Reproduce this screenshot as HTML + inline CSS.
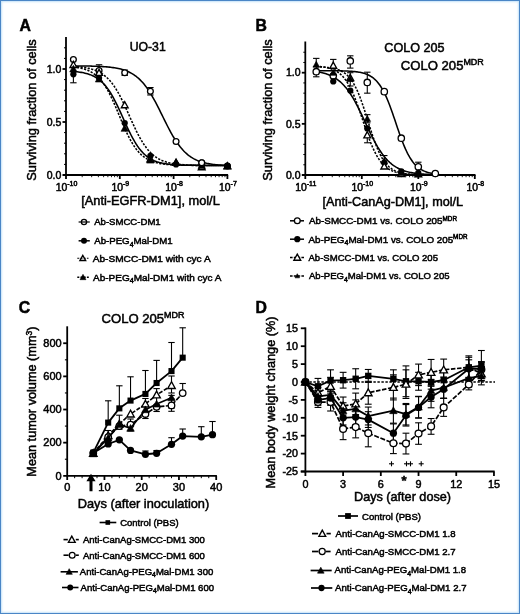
<!DOCTYPE html>
<html lang="en">
<head>
<meta charset="utf-8">
<title>Figure</title>
<style>
html,body{margin:0;padding:0;background:#fff;}
body{width:520px;height:614px;overflow:hidden;position:relative;}
.frame{position:absolute;left:0;top:0;width:520px;height:614px;box-sizing:border-box;
 border-style:solid;border-color:#4a86c6;border-width:1px 1.5px 1.5px 1px;box-shadow:inset 0 0 2px 1px #c4e2f8;}
svg{position:absolute;left:0;top:0;display:block;filter:blur(0.35px);}
svg text{font-family:"Liberation Sans", sans-serif;fill:#000;stroke:#000;stroke-width:0.5px;}
</style>
</head>
<body>
<svg width="520" height="614" viewBox="0 0 520 614">
<line x1="66.00" y1="37.00" x2="66.00" y2="175.90" stroke="#000" stroke-width="1.8"/>
<line x1="62.50" y1="175.00" x2="228.10" y2="175.00" stroke="#000" stroke-width="1.8"/>
<line x1="62.50" y1="122.00" x2="66.00" y2="122.00" stroke="#000" stroke-width="1.8"/>
<line x1="62.50" y1="69.00" x2="66.00" y2="69.00" stroke="#000" stroke-width="1.8"/>
<line x1="64.00" y1="164.40" x2="66.00" y2="164.40" stroke="#000" stroke-width="1.0"/>
<line x1="64.00" y1="153.80" x2="66.00" y2="153.80" stroke="#000" stroke-width="1.0"/>
<line x1="64.00" y1="143.20" x2="66.00" y2="143.20" stroke="#000" stroke-width="1.0"/>
<line x1="64.00" y1="132.60" x2="66.00" y2="132.60" stroke="#000" stroke-width="1.0"/>
<line x1="64.00" y1="111.40" x2="66.00" y2="111.40" stroke="#000" stroke-width="1.0"/>
<line x1="64.00" y1="100.80" x2="66.00" y2="100.80" stroke="#000" stroke-width="1.0"/>
<line x1="64.00" y1="90.20" x2="66.00" y2="90.20" stroke="#000" stroke-width="1.0"/>
<line x1="64.00" y1="79.60" x2="66.00" y2="79.60" stroke="#000" stroke-width="1.0"/>
<line x1="64.00" y1="58.40" x2="66.00" y2="58.40" stroke="#000" stroke-width="1.0"/>
<line x1="64.00" y1="47.80" x2="66.00" y2="47.80" stroke="#000" stroke-width="1.0"/>
<line x1="66.00" y1="175.00" x2="66.00" y2="179.00" stroke="#000" stroke-width="1.8"/>
<line x1="82.20" y1="175.00" x2="82.20" y2="177.20" stroke="#000" stroke-width="0.9"/>
<line x1="91.67" y1="175.00" x2="91.67" y2="177.20" stroke="#000" stroke-width="0.9"/>
<line x1="98.39" y1="175.00" x2="98.39" y2="177.20" stroke="#000" stroke-width="0.9"/>
<line x1="103.60" y1="175.00" x2="103.60" y2="177.20" stroke="#000" stroke-width="0.9"/>
<line x1="107.86" y1="175.00" x2="107.86" y2="177.20" stroke="#000" stroke-width="0.9"/>
<line x1="111.47" y1="175.00" x2="111.47" y2="177.20" stroke="#000" stroke-width="0.9"/>
<line x1="114.59" y1="175.00" x2="114.59" y2="177.20" stroke="#000" stroke-width="0.9"/>
<line x1="117.34" y1="175.00" x2="117.34" y2="177.20" stroke="#000" stroke-width="0.9"/>
<line x1="119.80" y1="175.00" x2="119.80" y2="179.00" stroke="#000" stroke-width="1.8"/>
<line x1="136.00" y1="175.00" x2="136.00" y2="177.20" stroke="#000" stroke-width="0.9"/>
<line x1="145.47" y1="175.00" x2="145.47" y2="177.20" stroke="#000" stroke-width="0.9"/>
<line x1="152.19" y1="175.00" x2="152.19" y2="177.20" stroke="#000" stroke-width="0.9"/>
<line x1="157.40" y1="175.00" x2="157.40" y2="177.20" stroke="#000" stroke-width="0.9"/>
<line x1="161.66" y1="175.00" x2="161.66" y2="177.20" stroke="#000" stroke-width="0.9"/>
<line x1="165.27" y1="175.00" x2="165.27" y2="177.20" stroke="#000" stroke-width="0.9"/>
<line x1="168.39" y1="175.00" x2="168.39" y2="177.20" stroke="#000" stroke-width="0.9"/>
<line x1="171.14" y1="175.00" x2="171.14" y2="177.20" stroke="#000" stroke-width="0.9"/>
<line x1="173.60" y1="175.00" x2="173.60" y2="179.00" stroke="#000" stroke-width="1.8"/>
<line x1="189.80" y1="175.00" x2="189.80" y2="177.20" stroke="#000" stroke-width="0.9"/>
<line x1="199.27" y1="175.00" x2="199.27" y2="177.20" stroke="#000" stroke-width="0.9"/>
<line x1="205.99" y1="175.00" x2="205.99" y2="177.20" stroke="#000" stroke-width="0.9"/>
<line x1="211.20" y1="175.00" x2="211.20" y2="177.20" stroke="#000" stroke-width="0.9"/>
<line x1="215.46" y1="175.00" x2="215.46" y2="177.20" stroke="#000" stroke-width="0.9"/>
<line x1="219.07" y1="175.00" x2="219.07" y2="177.20" stroke="#000" stroke-width="0.9"/>
<line x1="222.19" y1="175.00" x2="222.19" y2="177.20" stroke="#000" stroke-width="0.9"/>
<line x1="224.94" y1="175.00" x2="224.94" y2="177.20" stroke="#000" stroke-width="0.9"/>
<line x1="227.40" y1="175.00" x2="227.40" y2="179.00" stroke="#000" stroke-width="1.8"/>
<text x="61.30" y="178.70" font-size="10.5" text-anchor="end">0.0</text>
<text x="61.30" y="125.70" font-size="10.5" text-anchor="end">0.5</text>
<text x="61.30" y="72.70" font-size="10.5" text-anchor="end">1.0</text>
<text x="66.50" y="190.60" font-size="10.4" text-anchor="middle">10<tspan font-size="7.0" dy="-4.3">-10</tspan></text>
<text x="120.30" y="190.60" font-size="10.4" text-anchor="middle">10<tspan font-size="7.0" dy="-4.3">-9</tspan></text>
<text x="174.10" y="190.60" font-size="10.4" text-anchor="middle">10<tspan font-size="7.0" dy="-4.3">-8</tspan></text>
<text x="227.90" y="190.60" font-size="10.4" text-anchor="middle">10<tspan font-size="7.0" dy="-4.3">-7</tspan></text>
<text x="36.30" y="110.00" font-size="12.7" text-anchor="middle" textLength="141.5" lengthAdjust="spacingAndGlyphs" transform="rotate(-90 36.30 110.00)">Surviving fraction of cells</text>
<text x="150.50" y="205.30" font-size="12.7" text-anchor="middle" textLength="138.5" lengthAdjust="spacingAndGlyphs">[Anti-EGFR-DM1], mol/L</text>
<text x="147.70" y="50.90" font-size="12.4" text-anchor="middle" textLength="36.0" lengthAdjust="spacingAndGlyphs">UO-31</text>
<text x="19.50" y="30.80" font-size="15.8" font-weight="bold">A</text>
<polyline points="73.39,65.89 74.67,65.90 75.95,65.91 77.24,65.92 78.52,65.93 79.80,65.94 81.09,65.95 82.37,65.97 83.65,65.99 84.94,66.00 86.22,66.02 87.50,66.05 88.79,66.07 90.07,66.10 91.35,66.13 92.64,66.16 93.92,66.20 95.20,66.24 96.49,66.29 97.77,66.34 99.05,66.40 100.34,66.46 101.62,66.53 102.90,66.61 104.19,66.69 105.47,66.79 106.76,66.89 108.04,67.01 109.32,67.14 110.61,67.28 111.89,67.44 113.17,67.61 114.46,67.81 115.74,68.02 117.02,68.25 118.31,68.52 119.59,68.80 120.87,69.12 122.16,69.47 123.44,69.86 124.72,70.28 126.01,70.75 127.29,71.26 128.57,71.82 129.86,72.44 131.14,73.11 132.42,73.85 133.71,74.66 134.99,75.53 136.27,76.49 137.56,77.52 138.84,78.65 140.12,79.86 141.41,81.17 142.69,82.58 143.98,84.08 145.26,85.69 146.54,87.41 147.83,89.23 149.11,91.15 150.39,93.18 151.68,95.30 152.96,97.52 154.24,99.82 155.53,102.20 156.81,104.65 158.09,107.16 159.38,109.72 160.66,112.31 161.94,114.91 163.23,117.53 164.51,120.13 165.79,122.71 167.08,125.26 168.36,127.75 169.64,130.19 170.93,132.55 172.21,134.83 173.49,137.03 174.78,139.13 176.06,141.13 177.35,143.03 178.63,144.83 179.91,146.52 181.20,148.10 182.48,149.58 183.76,150.97 185.05,152.25 186.33,153.44 187.61,154.54 188.90,155.56 190.18,156.49 191.46,157.35 192.75,158.14 194.03,158.87 195.31,159.53 196.60,160.13 197.88,160.68 199.16,161.18 200.45,161.64 201.73,162.05 203.01,162.43 204.30,162.77 205.58,163.08 206.86,163.36 208.15,163.61 209.43,163.84 210.72,164.05 212.00,164.24 213.28,164.41 214.57,164.57 215.85,164.71 217.13,164.83 218.42,164.95 219.70,165.05 220.98,165.14 222.27,165.22 223.55,165.30 224.83,165.37 226.12,165.43 227.40,165.48" fill="none" stroke="#000" stroke-width="1.55" stroke-linejoin="round"/>
<polyline points="73.39,71.46 74.67,71.58 75.95,71.70 77.24,71.84 78.52,72.00 79.80,72.18 81.09,72.38 82.37,72.60 83.65,72.85 84.94,73.14 86.22,73.45 87.50,73.81 88.79,74.21 90.07,74.65 91.35,75.15 92.64,75.70 93.92,76.32 95.20,77.01 96.49,77.77 97.77,78.61 99.05,79.55 100.34,80.58 101.62,81.71 102.90,82.95 104.19,84.31 105.47,85.79 106.76,87.40 108.04,89.13 109.32,91.00 110.61,93.01 111.89,95.14 113.17,97.40 114.46,99.79 115.74,102.28 117.02,104.88 118.31,107.57 119.59,110.33 120.87,113.15 122.16,116.00 123.44,118.86 124.72,121.72 126.01,124.55 127.29,127.34 128.57,130.06 129.86,132.70 131.14,135.24 132.42,137.67 133.71,139.98 134.99,142.17 136.27,144.23 137.56,146.15 138.84,147.95 140.12,149.61 141.41,151.14 142.69,152.55 143.98,153.84 145.26,155.01 146.54,156.09 147.83,157.06 149.11,157.94 150.39,158.73 151.68,159.45 152.96,160.10 154.24,160.68 155.53,161.20 156.81,161.66 158.09,162.08 159.38,162.45 160.66,162.78 161.94,163.08 163.23,163.35 164.51,163.58 165.79,163.79 167.08,163.98 168.36,164.15 169.64,164.29 170.93,164.42 172.21,164.54 173.49,164.64 174.78,164.74 176.06,164.82 177.35,164.89 178.63,164.96 179.91,165.01 181.20,165.06 182.48,165.11 183.76,165.15 185.05,165.18 186.33,165.22 187.61,165.24 188.90,165.27 190.18,165.29 191.46,165.31 192.75,165.33 194.03,165.34 195.31,165.35 196.60,165.37 197.88,165.38 199.16,165.39 200.45,165.40 201.73,165.40 203.01,165.41 204.30,165.41 205.58,165.42 206.86,165.42 208.15,165.43 209.43,165.43 210.72,165.44 212.00,165.44 213.28,165.44 214.57,165.44 215.85,165.44 217.13,165.45 218.42,165.45 219.70,165.45 220.98,165.45 222.27,165.45 223.55,165.45 224.83,165.45 226.12,165.45 227.40,165.45" fill="none" stroke="#000" stroke-width="1.55" stroke-linejoin="round"/>
<polyline points="73.39,66.47 74.67,66.55 75.95,66.64 77.24,66.74 78.52,66.85 79.80,66.97 81.09,67.11 82.37,67.27 83.65,67.44 84.94,67.64 86.22,67.86 87.50,68.10 88.79,68.37 90.07,68.67 91.35,69.01 92.64,69.39 93.92,69.81 95.20,70.27 96.49,70.79 97.77,71.37 99.05,72.00 100.34,72.70 101.62,73.48 102.90,74.34 104.19,75.28 105.47,76.32 106.76,77.45 108.04,78.69 109.32,80.04 110.61,81.50 111.89,83.09 113.17,84.80 114.46,86.63 115.74,88.59 117.02,90.68 118.31,92.90 119.59,95.23 120.87,97.68 122.16,100.23 123.44,102.87 124.72,105.59 126.01,108.38 127.29,111.21 128.57,114.07 129.86,116.95 131.14,119.81 132.42,122.65 133.71,125.44 134.99,128.17 136.27,130.82 137.56,133.38 138.84,135.83 140.12,138.18 141.41,140.40 142.69,142.50 143.98,144.48 145.26,146.32 146.54,148.04 147.83,149.64 149.11,151.12 150.39,152.47 151.68,153.72 152.96,154.87 154.24,155.91 155.53,156.86 156.81,157.72 158.09,158.51 159.38,159.22 160.66,159.86 161.94,160.44 163.23,160.96 164.51,161.43 165.79,161.85 167.08,162.24 168.36,162.58 169.64,162.88 170.93,163.16 172.21,163.40 173.49,163.62 174.78,163.82 176.06,164.00 177.35,164.15 178.63,164.29 179.91,164.42 181.20,164.53 182.48,164.63 183.76,164.72 185.05,164.80 186.33,164.87 187.61,164.94 188.90,164.99 190.18,165.04 191.46,165.09 192.75,165.13 194.03,165.17 195.31,165.20 196.60,165.23 197.88,165.25 199.16,165.27 200.45,165.29 201.73,165.31 203.01,165.33 204.30,165.34 205.58,165.36 206.86,165.37 208.15,165.38 209.43,165.39 210.72,165.39 212.00,165.40 213.28,165.41 214.57,165.41 215.85,165.42 217.13,165.42 218.42,165.43 219.70,165.43 220.98,165.43 222.27,165.44 223.55,165.44 224.83,165.44 226.12,165.44 227.40,165.45" fill="none" stroke="#000" stroke-width="1.55" stroke-linejoin="round" stroke-dasharray="2.2 1.4"/>
<polyline points="73.39,67.00 74.67,67.15 75.95,67.33 77.24,67.52 78.52,67.74 79.80,67.99 81.09,68.27 82.37,68.58 83.65,68.93 84.94,69.32 86.22,69.77 87.50,70.26 88.79,70.82 90.07,71.44 91.35,72.13 92.64,72.90 93.92,73.76 95.20,74.71 96.49,75.76 97.77,76.93 99.05,78.21 100.34,79.61 101.62,81.14 102.90,82.82 104.19,84.63 105.47,86.59 106.76,88.69 108.04,90.94 109.32,93.34 110.61,95.87 111.89,98.52 113.17,101.29 114.46,104.16 115.74,107.12 117.02,110.13 118.31,113.19 119.59,116.27 120.87,119.34 122.16,122.38 123.44,125.38 124.72,128.30 126.01,131.13 127.29,133.86 128.57,136.46 129.86,138.94 131.14,141.27 132.42,143.46 133.71,145.51 134.99,147.41 136.27,149.16 137.56,150.78 138.84,152.26 140.12,153.61 141.41,154.84 142.69,155.96 143.98,156.97 145.26,157.88 146.54,158.70 147.83,159.44 149.11,160.10 150.39,160.70 151.68,161.23 152.96,161.70 154.24,162.12 155.53,162.50 156.81,162.83 158.09,163.13 159.38,163.40 160.66,163.63 161.94,163.84 163.23,164.03 164.51,164.19 165.79,164.34 167.08,164.47 168.36,164.58 169.64,164.68 170.93,164.77 172.21,164.85 173.49,164.92 174.78,164.98 176.06,165.04 177.35,165.09 178.63,165.13 179.91,165.17 181.20,165.20 182.48,165.23 183.76,165.26 185.05,165.28 186.33,165.30 187.61,165.32 188.90,165.34 190.18,165.35 191.46,165.36 192.75,165.38 194.03,165.39 195.31,165.39 196.60,165.40 197.88,165.41 199.16,165.41 200.45,165.42 201.73,165.42 203.01,165.43 204.30,165.43 205.58,165.44 206.86,165.44 208.15,165.44 209.43,165.44 210.72,165.44 212.00,165.45 213.28,165.45 214.57,165.45 215.85,165.45 217.13,165.45 218.42,165.45 219.70,165.45 220.98,165.45 222.27,165.46 223.55,165.46 224.83,165.46 226.12,165.46 227.40,165.46" fill="none" stroke="#000" stroke-width="1.55" stroke-linejoin="round" stroke-dasharray="2.2 1.4"/>
<line x1="99.05" y1="64.76" x2="99.05" y2="72.18" stroke="#000" stroke-width="1.1"/>
<line x1="95.85" y1="64.76" x2="102.25" y2="64.76" stroke="#000" stroke-width="1.1"/>
<line x1="95.85" y1="72.18" x2="102.25" y2="72.18" stroke="#000" stroke-width="1.1"/>
<line x1="124.72" y1="70.06" x2="124.72" y2="75.36" stroke="#000" stroke-width="1.1"/>
<line x1="121.52" y1="70.06" x2="127.92" y2="70.06" stroke="#000" stroke-width="1.1"/>
<line x1="121.52" y1="75.36" x2="127.92" y2="75.36" stroke="#000" stroke-width="1.1"/>
<line x1="150.39" y1="87.55" x2="150.39" y2="94.97" stroke="#000" stroke-width="1.1"/>
<line x1="147.19" y1="87.55" x2="153.59" y2="87.55" stroke="#000" stroke-width="1.1"/>
<line x1="147.19" y1="94.97" x2="153.59" y2="94.97" stroke="#000" stroke-width="1.1"/>
<line x1="73.39" y1="74.30" x2="73.39" y2="82.78" stroke="#000" stroke-width="1.1"/>
<line x1="70.19" y1="82.78" x2="76.59" y2="82.78" stroke="#000" stroke-width="1.1"/>
<circle cx="73.39" cy="59.46" r="2.90" fill="#fff" stroke="#000" stroke-width="1.3"/>
<circle cx="99.05" cy="70.59" r="2.90" fill="#fff" stroke="#000" stroke-width="1.3"/>
<circle cx="124.72" cy="72.71" r="2.90" fill="#fff" stroke="#000" stroke-width="1.3"/>
<circle cx="150.39" cy="91.26" r="2.90" fill="#fff" stroke="#000" stroke-width="1.3"/>
<circle cx="176.06" cy="141.50" r="2.90" fill="#fff" stroke="#000" stroke-width="1.3"/>
<circle cx="201.73" cy="162.70" r="2.90" fill="#fff" stroke="#000" stroke-width="1.3"/>
<circle cx="227.40" cy="165.99" r="2.90" fill="#fff" stroke="#000" stroke-width="1.3"/>
<circle cx="73.39" cy="74.30" r="3.13" fill="#000"/>
<circle cx="99.05" cy="78.01" r="3.13" fill="#000"/>
<circle cx="124.72" cy="123.06" r="3.13" fill="#000"/>
<circle cx="150.39" cy="155.92" r="3.13" fill="#000"/>
<circle cx="176.06" cy="164.40" r="3.13" fill="#000"/>
<circle cx="201.73" cy="165.46" r="3.13" fill="#000"/>
<circle cx="227.40" cy="165.99" r="3.13" fill="#000"/>
<polygon points="73.39,61.36 69.99,67.48 76.79,67.48" fill="#fff" stroke="#000" stroke-width="1.35" stroke-linejoin="miter"/>
<polygon points="99.05,69.31 95.65,75.43 102.45,75.43" fill="#fff" stroke="#000" stroke-width="1.35" stroke-linejoin="miter"/>
<polygon points="124.72,101.64 121.32,107.76 128.12,107.76" fill="#fff" stroke="#000" stroke-width="1.35" stroke-linejoin="miter"/>
<polygon points="150.39,155.70 146.99,161.82 153.79,161.82" fill="#fff" stroke="#000" stroke-width="1.35" stroke-linejoin="miter"/>
<polygon points="176.06,159.09 172.66,165.21 179.46,165.21" fill="#fff" stroke="#000" stroke-width="1.35" stroke-linejoin="miter"/>
<polygon points="201.73,163.65 198.33,169.77 205.13,169.77" fill="#fff" stroke="#000" stroke-width="1.35" stroke-linejoin="miter"/>
<polygon points="227.40,162.59 224.00,168.71 230.80,168.71" fill="#fff" stroke="#000" stroke-width="1.35" stroke-linejoin="miter"/>
<polygon points="73.39,65.30 69.69,71.96 77.09,71.96" fill="#000" stroke="#000" stroke-width="0.6"/>
<polygon points="99.05,75.37 95.35,82.03 102.75,82.03" fill="#000" stroke="#000" stroke-width="0.6"/>
<polygon points="124.72,124.66 121.02,131.32 128.42,131.32" fill="#000" stroke="#000" stroke-width="0.6"/>
<polygon points="150.39,156.46 146.69,163.12 154.09,163.12" fill="#000" stroke="#000" stroke-width="0.6"/>
<polygon points="176.06,158.79 172.36,165.45 179.76,165.45" fill="#000" stroke="#000" stroke-width="0.6"/>
<polygon points="201.73,161.76 198.03,168.42 205.43,168.42" fill="#000" stroke="#000" stroke-width="0.6"/>
<polygon points="227.40,162.29 223.70,168.95 231.10,168.95" fill="#000" stroke="#000" stroke-width="0.6"/>
<circle cx="201.73" cy="162.70" r="2.90" fill="#fff" stroke="#000" stroke-width="1.3"/>
<circle cx="227.40" cy="165.99" r="3.13" fill="#000"/>
<circle cx="84.00" cy="222.00" r="2.61" fill="#fff" stroke="#000" stroke-width="1.3"/>
<line x1="78.60" y1="222.00" x2="89.80" y2="222.00" stroke="#000" stroke-width="1.2"/>
<text x="94.20" y="225.00" font-size="9.8" textLength="66.5" lengthAdjust="spacingAndGlyphs">Ab-SMCC-DM1</text>
<line x1="78.60" y1="240.80" x2="89.80" y2="240.80" stroke="#000" stroke-width="1.5"/>
<circle cx="84.00" cy="240.80" r="2.97" fill="#000"/>
<text x="94.20" y="244.20" font-size="9.8" textLength="78.5" lengthAdjust="spacingAndGlyphs">Ab-PEG<tspan font-size="7.0" dy="2.4">4</tspan><tspan dy="-2.4">Mal-DM1</tspan></text>
<polygon points="82.80,255.31 79.91,260.51 85.69,260.51" fill="#fff" stroke="#000" stroke-width="1.35" stroke-linejoin="miter"/>
<line x1="77.30" y1="258.20" x2="88.50" y2="258.20" stroke="#000" stroke-width="1.1" stroke-dasharray="2 1.2"/>
<text x="92.70" y="262.00" font-size="9.8" textLength="118.0" lengthAdjust="spacingAndGlyphs">Ab-SMCC-DM1 with cyc A</text>
<line x1="77.30" y1="277.30" x2="88.80" y2="277.30" stroke="#000" stroke-width="1.5" stroke-dasharray="2 1.2"/>
<polygon points="83.00,274.34 80.04,279.67 85.96,279.67" fill="#000" stroke="#000" stroke-width="0.6"/>
<text x="93.00" y="280.80" font-size="9.8" textLength="128.5" lengthAdjust="spacingAndGlyphs">Ab-PEG<tspan font-size="7.0" dy="2.4">4</tspan><tspan dy="-2.4">Mal-DM1 with cyc A</tspan></text>
<line x1="305.30" y1="41.50" x2="305.30" y2="175.90" stroke="#000" stroke-width="1.8"/>
<line x1="301.80" y1="175.00" x2="475.50" y2="175.00" stroke="#000" stroke-width="1.8"/>
<line x1="301.80" y1="123.85" x2="305.30" y2="123.85" stroke="#000" stroke-width="1.8"/>
<line x1="301.80" y1="72.70" x2="305.30" y2="72.70" stroke="#000" stroke-width="1.8"/>
<line x1="303.30" y1="164.77" x2="305.30" y2="164.77" stroke="#000" stroke-width="1.0"/>
<line x1="303.30" y1="154.54" x2="305.30" y2="154.54" stroke="#000" stroke-width="1.0"/>
<line x1="303.30" y1="144.31" x2="305.30" y2="144.31" stroke="#000" stroke-width="1.0"/>
<line x1="303.30" y1="134.08" x2="305.30" y2="134.08" stroke="#000" stroke-width="1.0"/>
<line x1="303.30" y1="113.62" x2="305.30" y2="113.62" stroke="#000" stroke-width="1.0"/>
<line x1="303.30" y1="103.39" x2="305.30" y2="103.39" stroke="#000" stroke-width="1.0"/>
<line x1="303.30" y1="93.16" x2="305.30" y2="93.16" stroke="#000" stroke-width="1.0"/>
<line x1="303.30" y1="82.93" x2="305.30" y2="82.93" stroke="#000" stroke-width="1.0"/>
<line x1="303.30" y1="62.47" x2="305.30" y2="62.47" stroke="#000" stroke-width="1.0"/>
<line x1="303.30" y1="52.24" x2="305.30" y2="52.24" stroke="#000" stroke-width="1.0"/>
<line x1="305.30" y1="175.00" x2="305.30" y2="179.00" stroke="#000" stroke-width="1.8"/>
<line x1="322.31" y1="175.00" x2="322.31" y2="177.20" stroke="#000" stroke-width="0.9"/>
<line x1="332.26" y1="175.00" x2="332.26" y2="177.20" stroke="#000" stroke-width="0.9"/>
<line x1="339.32" y1="175.00" x2="339.32" y2="177.20" stroke="#000" stroke-width="0.9"/>
<line x1="344.79" y1="175.00" x2="344.79" y2="177.20" stroke="#000" stroke-width="0.9"/>
<line x1="349.27" y1="175.00" x2="349.27" y2="177.20" stroke="#000" stroke-width="0.9"/>
<line x1="353.05" y1="175.00" x2="353.05" y2="177.20" stroke="#000" stroke-width="0.9"/>
<line x1="356.32" y1="175.00" x2="356.32" y2="177.20" stroke="#000" stroke-width="0.9"/>
<line x1="359.21" y1="175.00" x2="359.21" y2="177.20" stroke="#000" stroke-width="0.9"/>
<line x1="361.80" y1="175.00" x2="361.80" y2="179.00" stroke="#000" stroke-width="1.8"/>
<line x1="378.81" y1="175.00" x2="378.81" y2="177.20" stroke="#000" stroke-width="0.9"/>
<line x1="388.76" y1="175.00" x2="388.76" y2="177.20" stroke="#000" stroke-width="0.9"/>
<line x1="395.82" y1="175.00" x2="395.82" y2="177.20" stroke="#000" stroke-width="0.9"/>
<line x1="401.29" y1="175.00" x2="401.29" y2="177.20" stroke="#000" stroke-width="0.9"/>
<line x1="405.77" y1="175.00" x2="405.77" y2="177.20" stroke="#000" stroke-width="0.9"/>
<line x1="409.55" y1="175.00" x2="409.55" y2="177.20" stroke="#000" stroke-width="0.9"/>
<line x1="412.82" y1="175.00" x2="412.82" y2="177.20" stroke="#000" stroke-width="0.9"/>
<line x1="415.71" y1="175.00" x2="415.71" y2="177.20" stroke="#000" stroke-width="0.9"/>
<line x1="418.30" y1="175.00" x2="418.30" y2="179.00" stroke="#000" stroke-width="1.8"/>
<line x1="435.31" y1="175.00" x2="435.31" y2="177.20" stroke="#000" stroke-width="0.9"/>
<line x1="445.26" y1="175.00" x2="445.26" y2="177.20" stroke="#000" stroke-width="0.9"/>
<line x1="452.32" y1="175.00" x2="452.32" y2="177.20" stroke="#000" stroke-width="0.9"/>
<line x1="457.79" y1="175.00" x2="457.79" y2="177.20" stroke="#000" stroke-width="0.9"/>
<line x1="462.27" y1="175.00" x2="462.27" y2="177.20" stroke="#000" stroke-width="0.9"/>
<line x1="466.05" y1="175.00" x2="466.05" y2="177.20" stroke="#000" stroke-width="0.9"/>
<line x1="469.32" y1="175.00" x2="469.32" y2="177.20" stroke="#000" stroke-width="0.9"/>
<line x1="472.21" y1="175.00" x2="472.21" y2="177.20" stroke="#000" stroke-width="0.9"/>
<line x1="474.80" y1="175.00" x2="474.80" y2="179.00" stroke="#000" stroke-width="1.8"/>
<text x="300.60" y="178.70" font-size="10.5" text-anchor="end">0.0</text>
<text x="300.60" y="127.55" font-size="10.5" text-anchor="end">0.5</text>
<text x="300.60" y="76.40" font-size="10.5" text-anchor="end">1.0</text>
<text x="305.80" y="190.60" font-size="10.4" text-anchor="middle">10<tspan font-size="7.0" dy="-4.3">-11</tspan></text>
<text x="362.30" y="190.60" font-size="10.4" text-anchor="middle">10<tspan font-size="7.0" dy="-4.3">-10</tspan></text>
<text x="418.80" y="190.60" font-size="10.4" text-anchor="middle">10<tspan font-size="7.0" dy="-4.3">-9</tspan></text>
<text x="475.30" y="190.60" font-size="10.4" text-anchor="middle">10<tspan font-size="7.0" dy="-4.3">-8</tspan></text>
<text x="272.00" y="110.00" font-size="12.7" text-anchor="middle" textLength="141.5" lengthAdjust="spacingAndGlyphs" transform="rotate(-90 272.00 110.00)">Surviving fraction of cells</text>
<text x="392.80" y="205.60" font-size="12.7" text-anchor="middle" textLength="140.5" lengthAdjust="spacingAndGlyphs">[Anti-CanAg-DM1], mol/L</text>
<text x="384.30" y="52.00" font-size="12.6" textLength="60.2" lengthAdjust="spacingAndGlyphs">COLO 205</text>
<text x="400.80" y="70.20" font-size="12.6" textLength="83.0" lengthAdjust="spacingAndGlyphs">COLO 205<tspan font-size="8.6" dy="-5.3">MDR</tspan></text>
<text x="255.40" y="31.20" font-size="15.8" font-weight="bold">B</text>
<polyline points="316.25,70.67 317.24,70.67 318.24,70.67 319.23,70.67 320.22,70.67 321.21,70.67 322.20,70.68 323.20,70.68 324.19,70.68 325.18,70.69 326.17,70.69 327.16,70.70 328.16,70.70 329.15,70.71 330.14,70.71 331.13,70.72 332.13,70.73 333.12,70.74 334.11,70.75 335.10,70.76 336.09,70.77 337.09,70.78 338.08,70.80 339.07,70.81 340.06,70.83 341.05,70.86 342.05,70.88 343.04,70.91 344.03,70.94 345.02,70.97 346.02,71.01 347.01,71.05 348.00,71.10 348.99,71.15 349.98,71.21 350.98,71.28 351.97,71.35 352.96,71.43 353.95,71.53 354.94,71.63 355.94,71.74 356.93,71.87 357.92,72.02 358.91,72.18 359.91,72.36 360.90,72.56 361.89,72.78 362.88,73.03 363.87,73.31 364.87,73.62 365.86,73.96 366.85,74.35 367.84,74.77 368.83,75.24 369.83,75.77 370.82,76.35 371.81,76.99 372.80,77.70 373.80,78.48 374.79,79.34 375.78,80.28 376.77,81.32 377.76,82.45 378.76,83.69 379.75,85.03 380.74,86.50 381.73,88.08 382.72,89.78 383.72,91.62 384.71,93.58 385.70,95.67 386.69,97.88 387.69,100.22 388.68,102.68 389.67,105.24 390.66,107.91 391.65,110.66 392.65,113.49 393.64,116.38 394.63,119.30 395.62,122.25 396.61,125.20 397.61,128.14 398.60,131.04 399.59,133.89 400.58,136.68 401.58,139.38 402.57,141.98 403.56,144.49 404.55,146.87 405.54,149.14 406.54,151.27 407.53,153.29 408.52,155.17 409.51,156.92 410.50,158.55 411.50,160.06 412.49,161.45 413.48,162.73 414.47,163.91 415.47,164.98 416.46,165.96 417.45,166.85 418.44,167.66 419.43,168.40 420.43,169.06 421.42,169.67 422.41,170.21 423.40,170.70 424.39,171.15 425.39,171.55 426.38,171.90 427.37,172.23 428.36,172.52 429.36,172.78 430.35,173.01 431.34,173.22 432.33,173.41 433.32,173.58 434.32,173.73 435.31,173.86" fill="none" stroke="#000" stroke-width="1.55" stroke-linejoin="round"/>
<polyline points="316.25,71.54 317.24,71.70 318.24,71.87 319.23,72.05 320.22,72.25 321.21,72.47 322.20,72.70 323.20,72.95 324.19,73.22 325.18,73.51 326.17,73.82 327.16,74.16 328.16,74.53 329.15,74.92 330.14,75.34 331.13,75.79 332.13,76.28 333.12,76.80 334.11,77.36 335.10,77.96 336.09,78.60 337.09,79.29 338.08,80.02 339.07,80.80 340.06,81.63 341.05,82.52 342.05,83.47 343.04,84.47 344.03,85.53 345.02,86.65 346.02,87.84 347.01,89.09 348.00,90.40 348.99,91.78 349.98,93.23 350.98,94.75 351.97,96.32 352.96,97.97 353.95,99.67 354.94,101.44 355.94,103.27 356.93,105.14 357.92,107.07 358.91,109.05 359.91,111.06 360.90,113.11 361.89,115.19 362.88,117.29 363.87,119.41 364.87,121.54 365.86,123.66 366.85,125.79 367.84,127.90 368.83,130.00 369.83,132.07 370.82,134.11 371.81,136.12 372.80,138.08 373.80,139.99 374.79,141.86 375.78,143.67 376.77,145.42 377.76,147.11 378.76,148.73 379.75,150.30 380.74,151.79 381.73,153.22 382.72,154.59 383.72,155.89 384.71,157.12 385.70,158.29 386.69,159.39 387.69,160.44 388.68,161.42 389.67,162.35 390.66,163.22 391.65,164.04 392.65,164.81 393.64,165.53 394.63,166.21 395.62,166.84 396.61,167.43 397.61,167.97 398.60,168.49 399.59,168.96 400.58,169.41 401.58,169.82 402.57,170.21 403.56,170.56 404.55,170.89 405.54,171.20 406.54,171.49 407.53,171.75 408.52,172.00 409.51,172.22 410.50,172.43 411.50,172.63 412.49,172.81 413.48,172.98 414.47,173.13 415.47,173.27 416.46,173.41 417.45,173.53 418.44,173.64 419.43,173.74 420.43,173.84 421.42,173.93 422.41,174.01 423.40,174.09 424.39,174.16 425.39,174.22 426.38,174.28 427.37,174.34 428.36,174.39 429.36,174.44 430.35,174.48 431.34,174.52 432.33,174.56 433.32,174.59 434.32,174.62 435.31,174.65" fill="none" stroke="#000" stroke-width="1.55" stroke-linejoin="round"/>
<polyline points="316.25,66.19 317.24,66.27 318.24,66.35 319.23,66.44 320.22,66.54 321.21,66.66 322.20,66.79 323.20,66.93 324.19,67.09 325.18,67.26 326.17,67.46 327.16,67.67 328.16,67.92 329.15,68.18 330.14,68.48 331.13,68.81 332.13,69.17 333.12,69.58 334.11,70.02 335.10,70.52 336.09,71.06 337.09,71.67 338.08,72.33 339.07,73.06 340.06,73.86 341.05,74.74 342.05,75.70 343.04,76.75 344.03,77.90 345.02,79.15 346.02,80.50 347.01,81.97 348.00,83.56 348.99,85.26 349.98,87.09 350.98,89.04 351.97,91.12 352.96,93.32 353.95,95.64 354.94,98.08 355.94,100.63 356.93,103.28 357.92,106.03 358.91,108.85 359.91,111.74 360.90,114.67 361.89,117.64 362.88,120.63 363.87,123.61 364.87,126.58 365.86,129.50 366.85,132.38 367.84,135.18 368.83,137.90 369.83,140.53 370.82,143.06 371.81,145.47 372.80,147.76 373.80,149.93 374.79,151.98 375.78,153.90 376.77,155.70 377.76,157.37 378.76,158.93 379.75,160.37 380.74,161.70 381.73,162.92 382.72,164.05 383.72,165.08 384.71,166.02 385.70,166.88 386.69,167.66 387.69,168.38 388.68,169.02 389.67,169.61 390.66,170.14 391.65,170.63 392.65,171.06 393.64,171.46 394.63,171.81 395.62,172.13 396.61,172.42 397.61,172.68 398.60,172.92 399.59,173.13 400.58,173.32 401.58,173.49 402.57,173.65 403.56,173.78 404.55,173.91 405.54,174.02 406.54,174.12 407.53,174.21 408.52,174.29 409.51,174.37 410.50,174.43 411.50,174.49 412.49,174.54 413.48,174.59 414.47,174.63 415.47,174.67 416.46,174.70 417.45,174.73 418.44,174.76 419.43,174.79 420.43,174.81 421.42,174.83 422.41,174.85 423.40,174.86 424.39,174.88 425.39,174.89 426.38,174.90 427.37,174.91 428.36,174.92 429.36,174.93 430.35,174.94 431.34,174.94 432.33,174.95 433.32,174.95 434.32,174.96 435.31,174.96" fill="none" stroke="#000" stroke-width="1.55" stroke-linejoin="round" stroke-dasharray="2.2 1.4"/>
<polyline points="316.25,66.80 317.24,66.84 318.24,66.87 319.23,66.91 320.22,66.95 321.21,67.00 322.20,67.05 323.20,67.11 324.19,67.18 325.18,67.26 326.17,67.34 327.16,67.44 328.16,67.55 329.15,67.67 330.14,67.80 331.13,67.96 332.13,68.13 333.12,68.32 334.11,68.53 335.10,68.77 336.09,69.04 337.09,69.34 338.08,69.68 339.07,70.06 340.06,70.48 341.05,70.94 342.05,71.46 343.04,72.04 344.03,72.69 345.02,73.40 346.02,74.19 347.01,75.06 348.00,76.03 348.99,77.09 349.98,78.26 350.98,79.54 351.97,80.94 352.96,82.47 353.95,84.13 354.94,85.92 355.94,87.86 356.93,89.94 357.92,92.16 358.91,94.52 359.91,97.03 360.90,99.66 361.89,102.42 362.88,105.28 363.87,108.25 364.87,111.30 365.86,114.40 366.85,117.56 367.84,120.73 368.83,123.91 369.83,127.06 370.82,130.17 371.81,133.22 372.80,136.19 373.80,139.06 374.79,141.82 375.78,144.46 376.77,146.96 377.76,149.33 378.76,151.56 379.75,153.64 380.74,155.58 381.73,157.38 382.72,159.04 383.72,160.57 384.71,161.98 385.70,163.26 386.69,164.43 387.69,165.50 388.68,166.47 389.67,167.35 390.66,168.14 391.65,168.86 392.65,169.50 393.64,170.08 394.63,170.60 395.62,171.07 396.61,171.49 397.61,171.87 398.60,172.21 399.59,172.51 400.58,172.78 401.58,173.02 402.57,173.24 403.56,173.43 404.55,173.60 405.54,173.75 406.54,173.89 407.53,174.01 408.52,174.12 409.51,174.22 410.50,174.30 411.50,174.38 412.49,174.45 413.48,174.51 414.47,174.56 415.47,174.61 416.46,174.65 417.45,174.69 418.44,174.73 419.43,174.76 420.43,174.78 421.42,174.81 422.41,174.83 423.40,174.85 424.39,174.86 425.39,174.88 426.38,174.89 427.37,174.90 428.36,174.92 429.36,174.92 430.35,174.93 431.34,174.94 432.33,174.95 433.32,174.95 434.32,174.96 435.31,174.96" fill="none" stroke="#000" stroke-width="1.55" stroke-linejoin="round" stroke-dasharray="2.2 1.4"/>
<line x1="316.25" y1="66.56" x2="316.25" y2="76.79" stroke="#000" stroke-width="1.1"/>
<line x1="313.05" y1="66.56" x2="319.45" y2="66.56" stroke="#000" stroke-width="1.1"/>
<line x1="313.05" y1="76.79" x2="319.45" y2="76.79" stroke="#000" stroke-width="1.1"/>
<line x1="350.27" y1="55.82" x2="350.27" y2="68.10" stroke="#000" stroke-width="1.1"/>
<line x1="347.07" y1="55.82" x2="353.47" y2="55.82" stroke="#000" stroke-width="1.1"/>
<line x1="347.07" y1="68.10" x2="353.47" y2="68.10" stroke="#000" stroke-width="1.1"/>
<line x1="367.28" y1="72.19" x2="367.28" y2="93.16" stroke="#000" stroke-width="1.1"/>
<line x1="364.08" y1="72.19" x2="370.48" y2="72.19" stroke="#000" stroke-width="1.1"/>
<line x1="364.08" y1="93.16" x2="370.48" y2="93.16" stroke="#000" stroke-width="1.1"/>
<line x1="418.30" y1="166.82" x2="418.30" y2="162.21" stroke="#000" stroke-width="1.1"/>
<line x1="415.10" y1="162.21" x2="421.50" y2="162.21" stroke="#000" stroke-width="1.1"/>
<line x1="316.25" y1="64.52" x2="316.25" y2="58.38" stroke="#000" stroke-width="1.1"/>
<line x1="313.05" y1="58.38" x2="319.45" y2="58.38" stroke="#000" stroke-width="1.1"/>
<line x1="333.26" y1="65.54" x2="333.26" y2="59.40" stroke="#000" stroke-width="1.1"/>
<line x1="330.06" y1="59.40" x2="336.46" y2="59.40" stroke="#000" stroke-width="1.1"/>
<line x1="367.28" y1="135.10" x2="367.28" y2="142.78" stroke="#000" stroke-width="1.1"/>
<line x1="364.08" y1="142.78" x2="370.48" y2="142.78" stroke="#000" stroke-width="1.1"/>
<line x1="367.28" y1="114.64" x2="367.28" y2="122.83" stroke="#000" stroke-width="1.1"/>
<line x1="364.08" y1="114.64" x2="370.48" y2="114.64" stroke="#000" stroke-width="1.1"/>
<line x1="364.08" y1="122.83" x2="370.48" y2="122.83" stroke="#000" stroke-width="1.1"/>
<line x1="384.28" y1="161.19" x2="384.28" y2="155.56" stroke="#000" stroke-width="1.1"/>
<line x1="381.08" y1="155.56" x2="387.48" y2="155.56" stroke="#000" stroke-width="1.1"/>
<line x1="350.27" y1="72.70" x2="350.27" y2="86.00" stroke="#000" stroke-width="1.1"/>
<line x1="347.07" y1="72.70" x2="353.47" y2="72.70" stroke="#000" stroke-width="1.1"/>
<line x1="347.07" y1="86.00" x2="353.47" y2="86.00" stroke="#000" stroke-width="1.1"/>
<circle cx="316.25" cy="71.68" r="3.19" fill="#fff" stroke="#000" stroke-width="1.3"/>
<circle cx="333.26" cy="75.77" r="3.19" fill="#fff" stroke="#000" stroke-width="1.3"/>
<circle cx="350.27" cy="60.94" r="3.19" fill="#fff" stroke="#000" stroke-width="1.3"/>
<circle cx="367.28" cy="82.42" r="3.19" fill="#fff" stroke="#000" stroke-width="1.3"/>
<circle cx="384.28" cy="91.63" r="3.19" fill="#fff" stroke="#000" stroke-width="1.3"/>
<circle cx="401.29" cy="138.17" r="3.19" fill="#fff" stroke="#000" stroke-width="1.3"/>
<circle cx="418.30" cy="166.82" r="3.19" fill="#fff" stroke="#000" stroke-width="1.3"/>
<circle cx="435.31" cy="173.47" r="3.19" fill="#fff" stroke="#000" stroke-width="1.3"/>
<circle cx="333.26" cy="81.40" r="3.13" fill="#000"/>
<circle cx="350.27" cy="90.60" r="3.13" fill="#000"/>
<circle cx="367.28" cy="128.45" r="3.13" fill="#000"/>
<circle cx="384.28" cy="162.72" r="3.13" fill="#000"/>
<circle cx="401.29" cy="171.42" r="3.13" fill="#000"/>
<circle cx="418.30" cy="172.95" r="3.13" fill="#000"/>
<polygon points="333.26,62.14 329.86,68.26 336.66,68.26" fill="#fff" stroke="#000" stroke-width="1.35" stroke-linejoin="miter"/>
<polygon points="350.27,74.42 346.87,80.54 353.67,80.54" fill="#fff" stroke="#000" stroke-width="1.35" stroke-linejoin="miter"/>
<polygon points="367.28,131.70 363.88,137.82 370.68,137.82" fill="#fff" stroke="#000" stroke-width="1.35" stroke-linejoin="miter"/>
<polygon points="384.28,162.90 380.88,169.02 387.68,169.02" fill="#fff" stroke="#000" stroke-width="1.35" stroke-linejoin="miter"/>
<polygon points="401.29,170.37 397.89,176.49 404.69,176.49" fill="#fff" stroke="#000" stroke-width="1.35" stroke-linejoin="miter"/>
<polygon points="418.30,170.58 414.90,176.70 421.70,176.70" fill="#fff" stroke="#000" stroke-width="1.35" stroke-linejoin="miter"/>
<polygon points="316.25,61.19 312.92,67.18 319.58,67.18" fill="#000" stroke="#000" stroke-width="0.6"/>
<polygon points="333.26,69.37 329.93,75.36 336.59,75.36" fill="#000" stroke="#000" stroke-width="0.6"/>
<polygon points="350.27,75.51 346.94,81.50 353.60,81.50" fill="#000" stroke="#000" stroke-width="0.6"/>
<polygon points="367.28,115.41 363.95,121.40 370.61,121.40" fill="#000" stroke="#000" stroke-width="0.6"/>
<polygon points="384.28,157.86 380.95,163.85 387.61,163.85" fill="#000" stroke="#000" stroke-width="0.6"/>
<polygon points="401.29,169.62 397.96,175.62 404.62,175.62" fill="#000" stroke="#000" stroke-width="0.6"/>
<polygon points="418.30,170.14 414.97,176.13 421.63,176.13" fill="#000" stroke="#000" stroke-width="0.6"/>
<line x1="290.00" y1="220.80" x2="304.00" y2="220.80" stroke="#000" stroke-width="1.5"/>
<circle cx="297.30" cy="220.80" r="2.90" fill="#fff" stroke="#000" stroke-width="1.3"/>
<text x="309.00" y="224.10" font-size="9.8" textLength="148.0" lengthAdjust="spacingAndGlyphs">Ab-SMCC-DM1 vs. COLO 205<tspan font-size="6.3" dy="-3.6">MDR</tspan></text>
<line x1="290.00" y1="239.20" x2="304.00" y2="239.20" stroke="#000" stroke-width="1.5"/>
<circle cx="297.30" cy="239.20" r="3.13" fill="#000"/>
<text x="308.50" y="242.50" font-size="9.8" textLength="159.0" lengthAdjust="spacingAndGlyphs">Ab-PEG<tspan font-size="7.0" dy="2.4">4</tspan><tspan dy="-2.4">Mal-DM1 vs. COLO 205</tspan><tspan font-size="6.3" dy="-3.6">MDR</tspan></text>
<line x1="290.00" y1="257.50" x2="304.00" y2="257.50" stroke="#000" stroke-width="1.5" stroke-dasharray="2.6 1.2"/>
<polygon points="297.30,254.10 293.90,260.22 300.70,260.22" fill="#fff" stroke="#000" stroke-width="1.35" stroke-linejoin="miter"/>
<text x="308.50" y="260.80" font-size="9.8" textLength="129.5" lengthAdjust="spacingAndGlyphs">Ab-SMCC-DM1 vs. COLO 205</text>
<line x1="290.00" y1="276.00" x2="304.00" y2="276.00" stroke="#000" stroke-width="1.5" stroke-dasharray="2.6 1.2"/>
<polygon points="297.30,273.71 295.01,277.84 299.59,277.84" fill="#000" stroke="#000" stroke-width="0.6"/>
<text x="309.00" y="279.30" font-size="9.8" textLength="140.5" lengthAdjust="spacingAndGlyphs">Ab-PEG<tspan font-size="7.0" dy="2.4">4</tspan><tspan dy="-2.4">Mal-DM1 vs. COLO 205</tspan></text>
<line x1="67.20" y1="326.30" x2="67.20" y2="476.70" stroke="#000" stroke-width="1.8"/>
<line x1="63.20" y1="475.80" x2="216.90" y2="475.80" stroke="#000" stroke-width="1.8"/>
<line x1="63.20" y1="442.66" x2="67.20" y2="442.66" stroke="#000" stroke-width="1.8"/>
<text x="61.70" y="446.46" font-size="11.0" text-anchor="end">200</text>
<line x1="63.20" y1="409.52" x2="67.20" y2="409.52" stroke="#000" stroke-width="1.8"/>
<text x="61.70" y="413.32" font-size="11.0" text-anchor="end">400</text>
<line x1="63.20" y1="376.38" x2="67.20" y2="376.38" stroke="#000" stroke-width="1.8"/>
<text x="61.70" y="380.18" font-size="11.0" text-anchor="end">600</text>
<line x1="63.20" y1="343.24" x2="67.20" y2="343.24" stroke="#000" stroke-width="1.8"/>
<text x="61.70" y="347.04" font-size="11.0" text-anchor="end">800</text>
<text x="61.70" y="479.60" font-size="11.0" text-anchor="end">0</text>
<line x1="64.90" y1="459.23" x2="67.20" y2="459.23" stroke="#000" stroke-width="1.1"/>
<line x1="64.90" y1="426.09" x2="67.20" y2="426.09" stroke="#000" stroke-width="1.1"/>
<line x1="64.90" y1="392.95" x2="67.20" y2="392.95" stroke="#000" stroke-width="1.1"/>
<line x1="64.90" y1="359.81" x2="67.20" y2="359.81" stroke="#000" stroke-width="1.1"/>
<line x1="67.20" y1="475.80" x2="67.20" y2="480.00" stroke="#000" stroke-width="1.8"/>
<line x1="74.65" y1="475.80" x2="74.65" y2="478.20" stroke="#000" stroke-width="1.0"/>
<line x1="82.10" y1="475.80" x2="82.10" y2="478.20" stroke="#000" stroke-width="1.0"/>
<line x1="89.55" y1="475.80" x2="89.55" y2="478.20" stroke="#000" stroke-width="1.0"/>
<line x1="97.00" y1="475.80" x2="97.00" y2="478.20" stroke="#000" stroke-width="1.0"/>
<line x1="104.45" y1="475.80" x2="104.45" y2="480.00" stroke="#000" stroke-width="1.8"/>
<line x1="111.90" y1="475.80" x2="111.90" y2="478.20" stroke="#000" stroke-width="1.0"/>
<line x1="119.35" y1="475.80" x2="119.35" y2="478.20" stroke="#000" stroke-width="1.0"/>
<line x1="126.80" y1="475.80" x2="126.80" y2="478.20" stroke="#000" stroke-width="1.0"/>
<line x1="134.25" y1="475.80" x2="134.25" y2="478.20" stroke="#000" stroke-width="1.0"/>
<line x1="141.70" y1="475.80" x2="141.70" y2="480.00" stroke="#000" stroke-width="1.8"/>
<line x1="149.15" y1="475.80" x2="149.15" y2="478.20" stroke="#000" stroke-width="1.0"/>
<line x1="156.60" y1="475.80" x2="156.60" y2="478.20" stroke="#000" stroke-width="1.0"/>
<line x1="164.05" y1="475.80" x2="164.05" y2="478.20" stroke="#000" stroke-width="1.0"/>
<line x1="171.50" y1="475.80" x2="171.50" y2="478.20" stroke="#000" stroke-width="1.0"/>
<line x1="178.95" y1="475.80" x2="178.95" y2="480.00" stroke="#000" stroke-width="1.8"/>
<line x1="186.40" y1="475.80" x2="186.40" y2="478.20" stroke="#000" stroke-width="1.0"/>
<line x1="193.85" y1="475.80" x2="193.85" y2="478.20" stroke="#000" stroke-width="1.0"/>
<line x1="201.30" y1="475.80" x2="201.30" y2="478.20" stroke="#000" stroke-width="1.0"/>
<line x1="208.75" y1="475.80" x2="208.75" y2="478.20" stroke="#000" stroke-width="1.0"/>
<line x1="216.20" y1="475.80" x2="216.20" y2="480.00" stroke="#000" stroke-width="1.8"/>
<text x="67.20" y="491.40" font-size="11.0" text-anchor="middle">0</text>
<text x="104.45" y="491.40" font-size="11.0" text-anchor="middle">10</text>
<text x="141.70" y="491.40" font-size="11.0" text-anchor="middle">20</text>
<text x="178.95" y="491.40" font-size="11.0" text-anchor="middle">30</text>
<text x="216.20" y="491.40" font-size="11.0" text-anchor="middle">40</text>
<path d="M91 473.8 L95.6 481.2 L92.5 481.2 L92.5 491.3 L89.5 491.3 L89.5 481.2 L86.4 481.2 Z" fill="#000"/>
<text x="143.50" y="507.80" font-size="12.7" text-anchor="middle" textLength="131.5" lengthAdjust="spacingAndGlyphs">Days (after inoculation)</text>
<text x="36.50" y="401.60" font-size="12.7" text-anchor="middle" textLength="150.2" lengthAdjust="spacingAndGlyphs" transform="rotate(-90 36.50 401.60)">Mean tumor volume (mm<tspan font-size="8.5" dy="-4.6">3</tspan><tspan dy="4.6" font-size="12.7">)</tspan></text>
<text x="101.50" y="323.00" font-size="12.6" textLength="83.0" lengthAdjust="spacingAndGlyphs">COLO 205<tspan font-size="8.6" dy="-4.8">MDR</tspan></text>
<text x="18.80" y="312.50" font-size="15.8" font-weight="bold">C</text>
<line x1="108.18" y1="422.61" x2="108.18" y2="400.80" stroke="#000" stroke-width="1.1"/>
<line x1="104.98" y1="400.80" x2="111.38" y2="400.80" stroke="#000" stroke-width="1.1"/>
<line x1="119.35" y1="408.36" x2="119.35" y2="385.80" stroke="#000" stroke-width="1.1"/>
<line x1="116.15" y1="385.80" x2="122.55" y2="385.80" stroke="#000" stroke-width="1.1"/>
<line x1="130.53" y1="400.57" x2="130.53" y2="376.80" stroke="#000" stroke-width="1.1"/>
<line x1="127.33" y1="376.80" x2="133.72" y2="376.80" stroke="#000" stroke-width="1.1"/>
<line x1="145.43" y1="393.94" x2="145.43" y2="370.50" stroke="#000" stroke-width="1.1"/>
<line x1="142.23" y1="370.50" x2="148.62" y2="370.50" stroke="#000" stroke-width="1.1"/>
<line x1="156.60" y1="383.01" x2="156.60" y2="360.40" stroke="#000" stroke-width="1.1"/>
<line x1="153.40" y1="360.40" x2="159.80" y2="360.40" stroke="#000" stroke-width="1.1"/>
<line x1="171.50" y1="371.08" x2="171.50" y2="342.50" stroke="#000" stroke-width="1.1"/>
<line x1="168.30" y1="342.50" x2="174.70" y2="342.50" stroke="#000" stroke-width="1.1"/>
<line x1="182.68" y1="357.66" x2="182.68" y2="327.80" stroke="#000" stroke-width="1.1"/>
<line x1="179.48" y1="327.80" x2="185.88" y2="327.80" stroke="#000" stroke-width="1.1"/>
<line x1="145.43" y1="454.26" x2="145.43" y2="451.00" stroke="#000" stroke-width="1.1"/>
<line x1="142.23" y1="451.00" x2="148.62" y2="451.00" stroke="#000" stroke-width="1.1"/>
<line x1="156.60" y1="453.26" x2="156.60" y2="450.50" stroke="#000" stroke-width="1.1"/>
<line x1="153.40" y1="450.50" x2="159.80" y2="450.50" stroke="#000" stroke-width="1.1"/>
<line x1="171.50" y1="444.32" x2="171.50" y2="437.70" stroke="#000" stroke-width="1.1"/>
<line x1="168.30" y1="437.70" x2="174.70" y2="437.70" stroke="#000" stroke-width="1.1"/>
<line x1="182.68" y1="436.03" x2="182.68" y2="429.00" stroke="#000" stroke-width="1.1"/>
<line x1="179.48" y1="429.00" x2="185.88" y2="429.00" stroke="#000" stroke-width="1.1"/>
<line x1="201.30" y1="436.86" x2="201.30" y2="426.70" stroke="#000" stroke-width="1.1"/>
<line x1="198.10" y1="426.70" x2="204.50" y2="426.70" stroke="#000" stroke-width="1.1"/>
<line x1="212.48" y1="434.71" x2="212.48" y2="421.50" stroke="#000" stroke-width="1.1"/>
<line x1="209.28" y1="421.50" x2="215.68" y2="421.50" stroke="#000" stroke-width="1.1"/>
<line x1="119.35" y1="415.20" x2="119.35" y2="429.20" stroke="#000" stroke-width="1.1"/>
<line x1="116.15" y1="415.20" x2="122.55" y2="415.20" stroke="#000" stroke-width="1.1"/>
<line x1="116.15" y1="429.20" x2="122.55" y2="429.20" stroke="#000" stroke-width="1.1"/>
<line x1="108.18" y1="430.50" x2="108.18" y2="441.00" stroke="#000" stroke-width="1.1"/>
<line x1="104.98" y1="430.50" x2="111.38" y2="430.50" stroke="#000" stroke-width="1.1"/>
<line x1="104.98" y1="441.00" x2="111.38" y2="441.00" stroke="#000" stroke-width="1.1"/>
<line x1="130.53" y1="419.00" x2="130.53" y2="431.00" stroke="#000" stroke-width="1.1"/>
<line x1="127.33" y1="419.00" x2="133.72" y2="419.00" stroke="#000" stroke-width="1.1"/>
<line x1="127.33" y1="431.00" x2="133.72" y2="431.00" stroke="#000" stroke-width="1.1"/>
<line x1="145.43" y1="398.50" x2="145.43" y2="418.50" stroke="#000" stroke-width="1.1"/>
<line x1="142.23" y1="398.50" x2="148.62" y2="398.50" stroke="#000" stroke-width="1.1"/>
<line x1="142.23" y1="418.50" x2="148.62" y2="418.50" stroke="#000" stroke-width="1.1"/>
<line x1="156.60" y1="388.60" x2="156.60" y2="411.50" stroke="#000" stroke-width="1.1"/>
<line x1="153.40" y1="388.60" x2="159.80" y2="388.60" stroke="#000" stroke-width="1.1"/>
<line x1="153.40" y1="411.50" x2="159.80" y2="411.50" stroke="#000" stroke-width="1.1"/>
<line x1="171.50" y1="376.00" x2="171.50" y2="393.00" stroke="#000" stroke-width="1.1"/>
<line x1="168.30" y1="376.00" x2="174.70" y2="376.00" stroke="#000" stroke-width="1.1"/>
<line x1="168.30" y1="393.00" x2="174.70" y2="393.00" stroke="#000" stroke-width="1.1"/>
<line x1="171.50" y1="395.40" x2="171.50" y2="411.30" stroke="#000" stroke-width="1.1"/>
<line x1="168.30" y1="395.40" x2="174.70" y2="395.40" stroke="#000" stroke-width="1.1"/>
<line x1="168.30" y1="411.30" x2="174.70" y2="411.30" stroke="#000" stroke-width="1.1"/>
<line x1="171.50" y1="399.00" x2="171.50" y2="408.00" stroke="#000" stroke-width="1.1"/>
<line x1="168.30" y1="399.00" x2="174.70" y2="399.00" stroke="#000" stroke-width="1.1"/>
<line x1="168.30" y1="408.00" x2="174.70" y2="408.00" stroke="#000" stroke-width="1.1"/>
<line x1="182.68" y1="393.12" x2="182.68" y2="383.50" stroke="#000" stroke-width="1.1"/>
<line x1="179.48" y1="383.50" x2="185.88" y2="383.50" stroke="#000" stroke-width="1.1"/>
<polyline points="93.28,452.60 108.18,422.61 119.35,408.36 130.53,400.57 145.43,393.94 156.60,383.01 171.50,371.08 182.68,357.66" fill="none" stroke="#000" stroke-width="1.8" stroke-linejoin="round"/>
<rect x="90.23" y="449.56" width="6.09" height="6.09" fill="#000"/>
<rect x="105.13" y="419.57" width="6.09" height="6.09" fill="#000"/>
<rect x="116.30" y="405.32" width="6.09" height="6.09" fill="#000"/>
<rect x="127.48" y="397.53" width="6.09" height="6.09" fill="#000"/>
<rect x="142.38" y="390.90" width="6.09" height="6.09" fill="#000"/>
<rect x="153.56" y="379.96" width="6.09" height="6.09" fill="#000"/>
<rect x="168.46" y="368.03" width="6.09" height="6.09" fill="#000"/>
<rect x="179.63" y="354.61" width="6.09" height="6.09" fill="#000"/>
<polyline points="93.28,453.43 108.18,435.53 119.35,424.10 130.53,413.99 145.43,404.05 156.60,394.94 171.50,385.49" fill="none" stroke="#000" stroke-width="1.6" stroke-linejoin="round" stroke-dasharray="4 1.6"/>
<polygon points="93.28,449.69 89.54,456.42 97.02,456.42" fill="#fff" stroke="#000" stroke-width="1.35" stroke-linejoin="miter"/>
<polygon points="108.18,431.79 104.44,438.53 111.92,438.53" fill="#fff" stroke="#000" stroke-width="1.35" stroke-linejoin="miter"/>
<polygon points="119.35,420.36 115.61,427.09 123.09,427.09" fill="#fff" stroke="#000" stroke-width="1.35" stroke-linejoin="miter"/>
<polygon points="130.53,410.25 126.79,416.99 134.27,416.99" fill="#fff" stroke="#000" stroke-width="1.35" stroke-linejoin="miter"/>
<polygon points="145.43,400.31 141.69,407.04 149.17,407.04" fill="#fff" stroke="#000" stroke-width="1.35" stroke-linejoin="miter"/>
<polygon points="156.60,391.20 152.86,397.93 160.34,397.93" fill="#fff" stroke="#000" stroke-width="1.35" stroke-linejoin="miter"/>
<polygon points="171.50,381.75 167.76,388.49 175.24,388.49" fill="#fff" stroke="#000" stroke-width="1.35" stroke-linejoin="miter"/>
<polyline points="93.28,453.10 108.18,437.19 119.35,426.09 130.53,424.60 145.43,413.99 156.60,406.87 171.50,405.38 182.68,393.12" fill="none" stroke="#000" stroke-width="1.6" stroke-linejoin="round" stroke-dasharray="5 1.4"/>
<circle cx="93.28" cy="453.10" r="3.25" fill="#fff" stroke="#000" stroke-width="1.3"/>
<circle cx="108.18" cy="437.19" r="3.25" fill="#fff" stroke="#000" stroke-width="1.3"/>
<circle cx="119.35" cy="426.09" r="3.25" fill="#fff" stroke="#000" stroke-width="1.3"/>
<circle cx="130.53" cy="424.60" r="3.25" fill="#fff" stroke="#000" stroke-width="1.3"/>
<circle cx="145.43" cy="413.99" r="3.25" fill="#fff" stroke="#000" stroke-width="1.3"/>
<circle cx="156.60" cy="406.87" r="3.25" fill="#fff" stroke="#000" stroke-width="1.3"/>
<circle cx="171.50" cy="405.38" r="3.25" fill="#fff" stroke="#000" stroke-width="1.3"/>
<circle cx="182.68" cy="393.12" r="3.25" fill="#fff" stroke="#000" stroke-width="1.3"/>
<polyline points="93.28,453.76 108.18,438.02 119.35,424.60 130.53,428.24 145.43,409.69 156.60,404.05 171.50,397.76" fill="none" stroke="#000" stroke-width="1.7" stroke-linejoin="round"/>
<polygon points="93.28,449.99 89.50,456.78 97.05,456.78" fill="#000" stroke="#000" stroke-width="0.6"/>
<polygon points="108.18,434.25 104.40,441.04 111.95,441.04" fill="#000" stroke="#000" stroke-width="0.6"/>
<polygon points="119.35,420.82 115.58,427.62 123.12,427.62" fill="#000" stroke="#000" stroke-width="0.6"/>
<polygon points="130.53,424.47 126.75,431.26 134.30,431.26" fill="#000" stroke="#000" stroke-width="0.6"/>
<polygon points="145.43,405.91 141.65,412.70 149.20,412.70" fill="#000" stroke="#000" stroke-width="0.6"/>
<polygon points="156.60,400.28 152.83,407.07 160.37,407.07" fill="#000" stroke="#000" stroke-width="0.6"/>
<polygon points="171.50,393.98 167.73,400.77 175.27,400.77" fill="#000" stroke="#000" stroke-width="0.6"/>
<polyline points="93.28,453.10 108.18,443.99 119.35,439.84 130.53,450.45 145.43,454.26 156.60,453.26 171.50,444.32 182.68,436.03 201.30,436.86 212.48,434.71" fill="none" stroke="#000" stroke-width="1.8" stroke-linejoin="round"/>
<circle cx="93.28" cy="453.10" r="3.63" fill="#000"/>
<circle cx="108.18" cy="443.99" r="3.63" fill="#000"/>
<circle cx="119.35" cy="439.84" r="3.63" fill="#000"/>
<circle cx="130.53" cy="450.45" r="3.63" fill="#000"/>
<circle cx="145.43" cy="454.26" r="3.63" fill="#000"/>
<circle cx="156.60" cy="453.26" r="3.63" fill="#000"/>
<circle cx="171.50" cy="444.32" r="3.63" fill="#000"/>
<circle cx="182.68" cy="436.03" r="3.63" fill="#000"/>
<circle cx="201.30" cy="436.86" r="3.63" fill="#000"/>
<circle cx="212.48" cy="434.71" r="3.63" fill="#000"/>
<line x1="99.60" y1="522.50" x2="116.30" y2="522.50" stroke="#000" stroke-width="1.6"/>
<rect x="105.48" y="520.18" width="4.64" height="4.64" fill="#000"/>
<text x="120.20" y="525.50" font-size="9.8" textLength="58.5" lengthAdjust="spacingAndGlyphs">Control (PBS)</text>
<line x1="63.50" y1="539.60" x2="67.80" y2="539.60" stroke="#000" stroke-width="1.6"/>
<line x1="75.80" y1="539.60" x2="78.80" y2="539.60" stroke="#000" stroke-width="1.6"/>
<polygon points="71.80,536.20 68.40,542.32 75.20,542.32" fill="#fff" stroke="#000" stroke-width="1.35" stroke-linejoin="miter"/>
<text x="82.90" y="543.00" font-size="9.8" textLength="122.0" lengthAdjust="spacingAndGlyphs">Anti-CanAg-SMCC-DM1 300</text>
<line x1="63.50" y1="555.20" x2="68.60" y2="555.20" stroke="#000" stroke-width="1.6"/>
<line x1="75.80" y1="555.20" x2="78.80" y2="555.20" stroke="#000" stroke-width="1.6"/>
<circle cx="72.20" cy="555.20" r="2.90" fill="#fff" stroke="#000" stroke-width="1.3"/>
<text x="82.90" y="558.50" font-size="9.8" textLength="122.0" lengthAdjust="spacingAndGlyphs">Anti-CanAg-SMCC-DM1 600</text>
<line x1="60.60" y1="571.80" x2="77.90" y2="571.80" stroke="#000" stroke-width="1.6"/>
<polygon points="69.20,568.65 66.06,574.32 72.34,574.32" fill="#000" stroke="#000" stroke-width="0.6"/>
<text x="79.80" y="575.00" font-size="9.8" textLength="133.5" lengthAdjust="spacingAndGlyphs">Anti-CanAg-PEG<tspan font-size="7.0" dy="2.4">4</tspan><tspan dy="-2.4">Mal-DM1 300</tspan></text>
<line x1="62.00" y1="587.50" x2="78.50" y2="587.50" stroke="#000" stroke-width="1.6"/>
<circle cx="70.20" cy="587.50" r="2.97" fill="#000"/>
<text x="80.60" y="590.80" font-size="9.8" textLength="133.5" lengthAdjust="spacingAndGlyphs">Anti-CanAg-PEG<tspan font-size="7.0" dy="2.4">4</tspan><tspan dy="-2.4">Mal-DM1 600</tspan></text>
<line x1="305.40" y1="327.40" x2="305.40" y2="472.40" stroke="#000" stroke-width="1.8"/>
<line x1="300.80" y1="471.50" x2="494.65" y2="471.50" stroke="#000" stroke-width="1.8"/>
<line x1="300.80" y1="471.50" x2="305.40" y2="471.50" stroke="#000" stroke-width="1.8"/>
<text x="297.90" y="475.35" font-size="10.7" text-anchor="end">-25</text>
<line x1="300.80" y1="453.60" x2="305.40" y2="453.60" stroke="#000" stroke-width="1.8"/>
<text x="297.90" y="457.45" font-size="10.7" text-anchor="end">-20</text>
<line x1="300.80" y1="435.70" x2="305.40" y2="435.70" stroke="#000" stroke-width="1.8"/>
<text x="297.90" y="439.55" font-size="10.7" text-anchor="end">-15</text>
<line x1="300.80" y1="417.80" x2="305.40" y2="417.80" stroke="#000" stroke-width="1.8"/>
<text x="297.90" y="421.65" font-size="10.7" text-anchor="end">-10</text>
<line x1="300.80" y1="399.90" x2="305.40" y2="399.90" stroke="#000" stroke-width="1.8"/>
<text x="297.90" y="403.75" font-size="10.7" text-anchor="end">-5</text>
<line x1="300.80" y1="382.00" x2="305.40" y2="382.00" stroke="#000" stroke-width="1.8"/>
<text x="297.90" y="385.85" font-size="10.7" text-anchor="end">0</text>
<line x1="300.80" y1="364.10" x2="305.40" y2="364.10" stroke="#000" stroke-width="1.8"/>
<text x="297.90" y="367.95" font-size="10.7" text-anchor="end">5</text>
<line x1="300.80" y1="346.20" x2="305.40" y2="346.20" stroke="#000" stroke-width="1.8"/>
<text x="297.90" y="350.05" font-size="10.7" text-anchor="end">10</text>
<line x1="300.80" y1="328.30" x2="305.40" y2="328.30" stroke="#000" stroke-width="1.8"/>
<text x="297.90" y="332.15" font-size="10.7" text-anchor="end">15</text>
<line x1="305.40" y1="471.50" x2="305.40" y2="476.00" stroke="#000" stroke-width="1.8"/>
<text x="305.40" y="488.00" font-size="10.8" text-anchor="middle">0</text>
<line x1="343.11" y1="471.50" x2="343.11" y2="476.00" stroke="#000" stroke-width="1.8"/>
<text x="343.11" y="488.00" font-size="10.8" text-anchor="middle">3</text>
<line x1="380.82" y1="471.50" x2="380.82" y2="476.00" stroke="#000" stroke-width="1.8"/>
<text x="380.82" y="488.00" font-size="10.8" text-anchor="middle">6</text>
<line x1="418.53" y1="471.50" x2="418.53" y2="476.00" stroke="#000" stroke-width="1.8"/>
<text x="418.53" y="488.00" font-size="10.8" text-anchor="middle">9</text>
<line x1="456.24" y1="471.50" x2="456.24" y2="476.00" stroke="#000" stroke-width="1.8"/>
<text x="456.24" y="488.00" font-size="10.8" text-anchor="middle">12</text>
<line x1="493.95" y1="471.50" x2="493.95" y2="476.00" stroke="#000" stroke-width="1.8"/>
<text x="493.95" y="488.00" font-size="10.8" text-anchor="middle">15</text>
<line x1="305.40" y1="382.00" x2="495.00" y2="382.00" stroke="#000" stroke-width="1.4" stroke-dasharray="2.4 1.6"/>
<text x="402.50" y="500.60" font-size="12.7" text-anchor="middle" textLength="97.0" lengthAdjust="spacingAndGlyphs">Days (after dose)</text>
<text x="275.40" y="402.40" font-size="12.7" text-anchor="middle" textLength="172.0" lengthAdjust="spacingAndGlyphs" transform="rotate(-90 275.40 402.40)">Mean body weight change (%)</text>
<text x="255.40" y="313.30" font-size="15.8" font-weight="bold">D</text>
<line x1="317.97" y1="378.42" x2="317.97" y2="394.17" stroke="#000" stroke-width="1.1"/>
<line x1="314.57" y1="378.42" x2="321.37" y2="378.42" stroke="#000" stroke-width="1.1"/>
<line x1="314.57" y1="394.17" x2="321.37" y2="394.17" stroke="#000" stroke-width="1.1"/>
<line x1="330.54" y1="369.83" x2="330.54" y2="391.31" stroke="#000" stroke-width="1.1"/>
<line x1="327.14" y1="369.83" x2="333.94" y2="369.83" stroke="#000" stroke-width="1.1"/>
<line x1="327.14" y1="391.31" x2="333.94" y2="391.31" stroke="#000" stroke-width="1.1"/>
<line x1="343.11" y1="372.33" x2="343.11" y2="388.09" stroke="#000" stroke-width="1.1"/>
<line x1="339.71" y1="372.33" x2="346.51" y2="372.33" stroke="#000" stroke-width="1.1"/>
<line x1="339.71" y1="388.09" x2="346.51" y2="388.09" stroke="#000" stroke-width="1.1"/>
<line x1="355.68" y1="368.75" x2="355.68" y2="388.80" stroke="#000" stroke-width="1.1"/>
<line x1="352.28" y1="368.75" x2="359.08" y2="368.75" stroke="#000" stroke-width="1.1"/>
<line x1="352.28" y1="388.80" x2="359.08" y2="388.80" stroke="#000" stroke-width="1.1"/>
<line x1="368.25" y1="369.47" x2="368.25" y2="382.36" stroke="#000" stroke-width="1.1"/>
<line x1="364.85" y1="369.47" x2="371.65" y2="369.47" stroke="#000" stroke-width="1.1"/>
<line x1="364.85" y1="382.36" x2="371.65" y2="382.36" stroke="#000" stroke-width="1.1"/>
<line x1="393.39" y1="369.83" x2="393.39" y2="387.73" stroke="#000" stroke-width="1.1"/>
<line x1="389.99" y1="369.83" x2="396.79" y2="369.83" stroke="#000" stroke-width="1.1"/>
<line x1="389.99" y1="387.73" x2="396.79" y2="387.73" stroke="#000" stroke-width="1.1"/>
<line x1="405.96" y1="365.89" x2="405.96" y2="396.68" stroke="#000" stroke-width="1.1"/>
<line x1="402.56" y1="365.89" x2="409.36" y2="365.89" stroke="#000" stroke-width="1.1"/>
<line x1="402.56" y1="396.68" x2="409.36" y2="396.68" stroke="#000" stroke-width="1.1"/>
<line x1="418.53" y1="372.33" x2="418.53" y2="390.23" stroke="#000" stroke-width="1.1"/>
<line x1="415.13" y1="372.33" x2="421.93" y2="372.33" stroke="#000" stroke-width="1.1"/>
<line x1="415.13" y1="390.23" x2="421.93" y2="390.23" stroke="#000" stroke-width="1.1"/>
<line x1="431.10" y1="374.84" x2="431.10" y2="389.16" stroke="#000" stroke-width="1.1"/>
<line x1="427.70" y1="374.84" x2="434.50" y2="374.84" stroke="#000" stroke-width="1.1"/>
<line x1="427.70" y1="389.16" x2="434.50" y2="389.16" stroke="#000" stroke-width="1.1"/>
<line x1="443.67" y1="371.26" x2="443.67" y2="389.16" stroke="#000" stroke-width="1.1"/>
<line x1="440.27" y1="371.26" x2="447.07" y2="371.26" stroke="#000" stroke-width="1.1"/>
<line x1="440.27" y1="389.16" x2="447.07" y2="389.16" stroke="#000" stroke-width="1.1"/>
<line x1="468.81" y1="355.87" x2="468.81" y2="378.78" stroke="#000" stroke-width="1.1"/>
<line x1="465.41" y1="355.87" x2="472.21" y2="355.87" stroke="#000" stroke-width="1.1"/>
<line x1="465.41" y1="378.78" x2="472.21" y2="378.78" stroke="#000" stroke-width="1.1"/>
<line x1="481.38" y1="350.50" x2="481.38" y2="380.57" stroke="#000" stroke-width="1.1"/>
<line x1="477.98" y1="350.50" x2="484.78" y2="350.50" stroke="#000" stroke-width="1.1"/>
<line x1="477.98" y1="380.57" x2="484.78" y2="380.57" stroke="#000" stroke-width="1.1"/>
<line x1="317.97" y1="387.37" x2="317.97" y2="398.11" stroke="#000" stroke-width="1.1"/>
<line x1="314.57" y1="387.37" x2="321.37" y2="387.37" stroke="#000" stroke-width="1.1"/>
<line x1="314.57" y1="398.11" x2="321.37" y2="398.11" stroke="#000" stroke-width="1.1"/>
<line x1="330.54" y1="377.35" x2="330.54" y2="395.25" stroke="#000" stroke-width="1.1"/>
<line x1="327.14" y1="377.35" x2="333.94" y2="377.35" stroke="#000" stroke-width="1.1"/>
<line x1="327.14" y1="395.25" x2="333.94" y2="395.25" stroke="#000" stroke-width="1.1"/>
<line x1="343.11" y1="397.04" x2="343.11" y2="414.94" stroke="#000" stroke-width="1.1"/>
<line x1="339.71" y1="397.04" x2="346.51" y2="397.04" stroke="#000" stroke-width="1.1"/>
<line x1="339.71" y1="414.94" x2="346.51" y2="414.94" stroke="#000" stroke-width="1.1"/>
<line x1="355.68" y1="393.10" x2="355.68" y2="414.58" stroke="#000" stroke-width="1.1"/>
<line x1="352.28" y1="393.10" x2="359.08" y2="393.10" stroke="#000" stroke-width="1.1"/>
<line x1="352.28" y1="414.58" x2="359.08" y2="414.58" stroke="#000" stroke-width="1.1"/>
<line x1="368.25" y1="381.28" x2="368.25" y2="404.20" stroke="#000" stroke-width="1.1"/>
<line x1="364.85" y1="381.28" x2="371.65" y2="381.28" stroke="#000" stroke-width="1.1"/>
<line x1="364.85" y1="404.20" x2="371.65" y2="404.20" stroke="#000" stroke-width="1.1"/>
<line x1="393.39" y1="374.84" x2="393.39" y2="399.90" stroke="#000" stroke-width="1.1"/>
<line x1="389.99" y1="374.84" x2="396.79" y2="374.84" stroke="#000" stroke-width="1.1"/>
<line x1="389.99" y1="399.90" x2="396.79" y2="399.90" stroke="#000" stroke-width="1.1"/>
<line x1="405.96" y1="369.83" x2="405.96" y2="398.47" stroke="#000" stroke-width="1.1"/>
<line x1="402.56" y1="369.83" x2="409.36" y2="369.83" stroke="#000" stroke-width="1.1"/>
<line x1="402.56" y1="398.47" x2="409.36" y2="398.47" stroke="#000" stroke-width="1.1"/>
<line x1="418.53" y1="364.10" x2="418.53" y2="385.58" stroke="#000" stroke-width="1.1"/>
<line x1="415.13" y1="364.10" x2="421.93" y2="364.10" stroke="#000" stroke-width="1.1"/>
<line x1="415.13" y1="385.58" x2="421.93" y2="385.58" stroke="#000" stroke-width="1.1"/>
<line x1="431.10" y1="359.45" x2="431.10" y2="385.22" stroke="#000" stroke-width="1.1"/>
<line x1="427.70" y1="359.45" x2="434.50" y2="359.45" stroke="#000" stroke-width="1.1"/>
<line x1="427.70" y1="385.22" x2="434.50" y2="385.22" stroke="#000" stroke-width="1.1"/>
<line x1="443.67" y1="359.09" x2="443.67" y2="380.57" stroke="#000" stroke-width="1.1"/>
<line x1="440.27" y1="359.09" x2="447.07" y2="359.09" stroke="#000" stroke-width="1.1"/>
<line x1="440.27" y1="380.57" x2="447.07" y2="380.57" stroke="#000" stroke-width="1.1"/>
<line x1="468.81" y1="357.30" x2="468.81" y2="377.35" stroke="#000" stroke-width="1.1"/>
<line x1="465.41" y1="357.30" x2="472.21" y2="357.30" stroke="#000" stroke-width="1.1"/>
<line x1="465.41" y1="377.35" x2="472.21" y2="377.35" stroke="#000" stroke-width="1.1"/>
<line x1="481.38" y1="366.61" x2="481.38" y2="380.93" stroke="#000" stroke-width="1.1"/>
<line x1="477.98" y1="366.61" x2="484.78" y2="366.61" stroke="#000" stroke-width="1.1"/>
<line x1="477.98" y1="380.93" x2="484.78" y2="380.93" stroke="#000" stroke-width="1.1"/>
<line x1="317.97" y1="396.68" x2="317.97" y2="407.42" stroke="#000" stroke-width="1.1"/>
<line x1="314.57" y1="396.68" x2="321.37" y2="396.68" stroke="#000" stroke-width="1.1"/>
<line x1="314.57" y1="407.42" x2="321.37" y2="407.42" stroke="#000" stroke-width="1.1"/>
<line x1="330.54" y1="393.10" x2="330.54" y2="411.00" stroke="#000" stroke-width="1.1"/>
<line x1="327.14" y1="393.10" x2="333.94" y2="393.10" stroke="#000" stroke-width="1.1"/>
<line x1="327.14" y1="411.00" x2="333.94" y2="411.00" stroke="#000" stroke-width="1.1"/>
<line x1="343.11" y1="418.16" x2="343.11" y2="439.64" stroke="#000" stroke-width="1.1"/>
<line x1="339.71" y1="418.16" x2="346.51" y2="418.16" stroke="#000" stroke-width="1.1"/>
<line x1="339.71" y1="439.64" x2="346.51" y2="439.64" stroke="#000" stroke-width="1.1"/>
<line x1="355.68" y1="416.37" x2="355.68" y2="437.85" stroke="#000" stroke-width="1.1"/>
<line x1="352.28" y1="416.37" x2="359.08" y2="416.37" stroke="#000" stroke-width="1.1"/>
<line x1="352.28" y1="437.85" x2="359.08" y2="437.85" stroke="#000" stroke-width="1.1"/>
<line x1="368.25" y1="419.59" x2="368.25" y2="446.80" stroke="#000" stroke-width="1.1"/>
<line x1="364.85" y1="419.59" x2="371.65" y2="419.59" stroke="#000" stroke-width="1.1"/>
<line x1="364.85" y1="446.80" x2="371.65" y2="446.80" stroke="#000" stroke-width="1.1"/>
<line x1="393.39" y1="432.84" x2="393.39" y2="453.60" stroke="#000" stroke-width="1.1"/>
<line x1="389.99" y1="432.84" x2="396.79" y2="432.84" stroke="#000" stroke-width="1.1"/>
<line x1="389.99" y1="453.60" x2="396.79" y2="453.60" stroke="#000" stroke-width="1.1"/>
<line x1="405.96" y1="433.19" x2="405.96" y2="453.96" stroke="#000" stroke-width="1.1"/>
<line x1="402.56" y1="433.19" x2="409.36" y2="433.19" stroke="#000" stroke-width="1.1"/>
<line x1="402.56" y1="453.96" x2="409.36" y2="453.96" stroke="#000" stroke-width="1.1"/>
<line x1="418.53" y1="422.81" x2="418.53" y2="444.29" stroke="#000" stroke-width="1.1"/>
<line x1="415.13" y1="422.81" x2="421.93" y2="422.81" stroke="#000" stroke-width="1.1"/>
<line x1="415.13" y1="444.29" x2="421.93" y2="444.29" stroke="#000" stroke-width="1.1"/>
<line x1="431.10" y1="418.52" x2="431.10" y2="434.27" stroke="#000" stroke-width="1.1"/>
<line x1="427.70" y1="418.52" x2="434.50" y2="418.52" stroke="#000" stroke-width="1.1"/>
<line x1="427.70" y1="434.27" x2="434.50" y2="434.27" stroke="#000" stroke-width="1.1"/>
<line x1="443.67" y1="398.47" x2="443.67" y2="416.37" stroke="#000" stroke-width="1.1"/>
<line x1="440.27" y1="398.47" x2="447.07" y2="398.47" stroke="#000" stroke-width="1.1"/>
<line x1="440.27" y1="416.37" x2="447.07" y2="416.37" stroke="#000" stroke-width="1.1"/>
<line x1="468.81" y1="379.14" x2="468.81" y2="389.88" stroke="#000" stroke-width="1.1"/>
<line x1="465.41" y1="379.14" x2="472.21" y2="379.14" stroke="#000" stroke-width="1.1"/>
<line x1="465.41" y1="389.88" x2="472.21" y2="389.88" stroke="#000" stroke-width="1.1"/>
<line x1="481.38" y1="362.31" x2="481.38" y2="376.63" stroke="#000" stroke-width="1.1"/>
<line x1="477.98" y1="362.31" x2="484.78" y2="362.31" stroke="#000" stroke-width="1.1"/>
<line x1="477.98" y1="376.63" x2="484.78" y2="376.63" stroke="#000" stroke-width="1.1"/>
<line x1="317.97" y1="390.95" x2="317.97" y2="401.69" stroke="#000" stroke-width="1.1"/>
<line x1="314.57" y1="390.95" x2="321.37" y2="390.95" stroke="#000" stroke-width="1.1"/>
<line x1="314.57" y1="401.69" x2="321.37" y2="401.69" stroke="#000" stroke-width="1.1"/>
<line x1="330.54" y1="387.73" x2="330.54" y2="402.05" stroke="#000" stroke-width="1.1"/>
<line x1="327.14" y1="387.73" x2="333.94" y2="387.73" stroke="#000" stroke-width="1.1"/>
<line x1="327.14" y1="402.05" x2="333.94" y2="402.05" stroke="#000" stroke-width="1.1"/>
<line x1="343.11" y1="402.76" x2="343.11" y2="418.52" stroke="#000" stroke-width="1.1"/>
<line x1="339.71" y1="402.76" x2="346.51" y2="402.76" stroke="#000" stroke-width="1.1"/>
<line x1="339.71" y1="418.52" x2="346.51" y2="418.52" stroke="#000" stroke-width="1.1"/>
<line x1="355.68" y1="399.90" x2="355.68" y2="417.80" stroke="#000" stroke-width="1.1"/>
<line x1="352.28" y1="399.90" x2="359.08" y2="399.90" stroke="#000" stroke-width="1.1"/>
<line x1="352.28" y1="417.80" x2="359.08" y2="417.80" stroke="#000" stroke-width="1.1"/>
<line x1="368.25" y1="407.06" x2="368.25" y2="424.96" stroke="#000" stroke-width="1.1"/>
<line x1="364.85" y1="407.06" x2="371.65" y2="407.06" stroke="#000" stroke-width="1.1"/>
<line x1="364.85" y1="424.96" x2="371.65" y2="424.96" stroke="#000" stroke-width="1.1"/>
<line x1="393.39" y1="398.11" x2="393.39" y2="423.17" stroke="#000" stroke-width="1.1"/>
<line x1="389.99" y1="398.11" x2="396.79" y2="398.11" stroke="#000" stroke-width="1.1"/>
<line x1="389.99" y1="423.17" x2="396.79" y2="423.17" stroke="#000" stroke-width="1.1"/>
<line x1="405.96" y1="403.48" x2="405.96" y2="424.96" stroke="#000" stroke-width="1.1"/>
<line x1="402.56" y1="403.48" x2="409.36" y2="403.48" stroke="#000" stroke-width="1.1"/>
<line x1="402.56" y1="424.96" x2="409.36" y2="424.96" stroke="#000" stroke-width="1.1"/>
<line x1="418.53" y1="396.32" x2="418.53" y2="417.80" stroke="#000" stroke-width="1.1"/>
<line x1="415.13" y1="396.32" x2="421.93" y2="396.32" stroke="#000" stroke-width="1.1"/>
<line x1="415.13" y1="417.80" x2="421.93" y2="417.80" stroke="#000" stroke-width="1.1"/>
<line x1="431.10" y1="379.85" x2="431.10" y2="401.33" stroke="#000" stroke-width="1.1"/>
<line x1="427.70" y1="379.85" x2="434.50" y2="379.85" stroke="#000" stroke-width="1.1"/>
<line x1="427.70" y1="401.33" x2="434.50" y2="401.33" stroke="#000" stroke-width="1.1"/>
<line x1="443.67" y1="376.99" x2="443.67" y2="398.47" stroke="#000" stroke-width="1.1"/>
<line x1="440.27" y1="376.99" x2="447.07" y2="376.99" stroke="#000" stroke-width="1.1"/>
<line x1="440.27" y1="398.47" x2="447.07" y2="398.47" stroke="#000" stroke-width="1.1"/>
<line x1="468.81" y1="369.11" x2="468.81" y2="387.01" stroke="#000" stroke-width="1.1"/>
<line x1="465.41" y1="369.11" x2="472.21" y2="369.11" stroke="#000" stroke-width="1.1"/>
<line x1="465.41" y1="387.01" x2="472.21" y2="387.01" stroke="#000" stroke-width="1.1"/>
<line x1="481.38" y1="366.96" x2="481.38" y2="384.86" stroke="#000" stroke-width="1.1"/>
<line x1="477.98" y1="366.96" x2="484.78" y2="366.96" stroke="#000" stroke-width="1.1"/>
<line x1="477.98" y1="384.86" x2="484.78" y2="384.86" stroke="#000" stroke-width="1.1"/>
<line x1="317.97" y1="394.53" x2="317.97" y2="405.27" stroke="#000" stroke-width="1.1"/>
<line x1="314.57" y1="394.53" x2="321.37" y2="394.53" stroke="#000" stroke-width="1.1"/>
<line x1="314.57" y1="405.27" x2="321.37" y2="405.27" stroke="#000" stroke-width="1.1"/>
<line x1="330.54" y1="390.95" x2="330.54" y2="405.27" stroke="#000" stroke-width="1.1"/>
<line x1="327.14" y1="390.95" x2="333.94" y2="390.95" stroke="#000" stroke-width="1.1"/>
<line x1="327.14" y1="405.27" x2="333.94" y2="405.27" stroke="#000" stroke-width="1.1"/>
<line x1="343.11" y1="410.64" x2="343.11" y2="424.96" stroke="#000" stroke-width="1.1"/>
<line x1="339.71" y1="410.64" x2="346.51" y2="410.64" stroke="#000" stroke-width="1.1"/>
<line x1="339.71" y1="424.96" x2="346.51" y2="424.96" stroke="#000" stroke-width="1.1"/>
<line x1="355.68" y1="409.21" x2="355.68" y2="424.96" stroke="#000" stroke-width="1.1"/>
<line x1="352.28" y1="409.21" x2="359.08" y2="409.21" stroke="#000" stroke-width="1.1"/>
<line x1="352.28" y1="424.96" x2="359.08" y2="424.96" stroke="#000" stroke-width="1.1"/>
<line x1="368.25" y1="411.71" x2="368.25" y2="427.47" stroke="#000" stroke-width="1.1"/>
<line x1="364.85" y1="411.71" x2="371.65" y2="411.71" stroke="#000" stroke-width="1.1"/>
<line x1="364.85" y1="427.47" x2="371.65" y2="427.47" stroke="#000" stroke-width="1.1"/>
<line x1="393.39" y1="423.89" x2="393.39" y2="442.50" stroke="#000" stroke-width="1.1"/>
<line x1="389.99" y1="423.89" x2="396.79" y2="423.89" stroke="#000" stroke-width="1.1"/>
<line x1="389.99" y1="442.50" x2="396.79" y2="442.50" stroke="#000" stroke-width="1.1"/>
<line x1="405.96" y1="404.55" x2="405.96" y2="426.03" stroke="#000" stroke-width="1.1"/>
<line x1="402.56" y1="404.55" x2="409.36" y2="404.55" stroke="#000" stroke-width="1.1"/>
<line x1="402.56" y1="426.03" x2="409.36" y2="426.03" stroke="#000" stroke-width="1.1"/>
<line x1="418.53" y1="396.68" x2="418.53" y2="418.16" stroke="#000" stroke-width="1.1"/>
<line x1="415.13" y1="396.68" x2="421.93" y2="396.68" stroke="#000" stroke-width="1.1"/>
<line x1="415.13" y1="418.16" x2="421.93" y2="418.16" stroke="#000" stroke-width="1.1"/>
<line x1="431.10" y1="386.30" x2="431.10" y2="407.78" stroke="#000" stroke-width="1.1"/>
<line x1="427.70" y1="386.30" x2="434.50" y2="386.30" stroke="#000" stroke-width="1.1"/>
<line x1="427.70" y1="407.78" x2="434.50" y2="407.78" stroke="#000" stroke-width="1.1"/>
<line x1="443.67" y1="380.21" x2="443.67" y2="398.11" stroke="#000" stroke-width="1.1"/>
<line x1="440.27" y1="380.21" x2="447.07" y2="380.21" stroke="#000" stroke-width="1.1"/>
<line x1="440.27" y1="398.11" x2="447.07" y2="398.11" stroke="#000" stroke-width="1.1"/>
<line x1="468.81" y1="359.80" x2="468.81" y2="377.70" stroke="#000" stroke-width="1.1"/>
<line x1="465.41" y1="359.80" x2="472.21" y2="359.80" stroke="#000" stroke-width="1.1"/>
<line x1="465.41" y1="377.70" x2="472.21" y2="377.70" stroke="#000" stroke-width="1.1"/>
<line x1="481.38" y1="361.59" x2="481.38" y2="375.91" stroke="#000" stroke-width="1.1"/>
<line x1="477.98" y1="361.59" x2="484.78" y2="361.59" stroke="#000" stroke-width="1.1"/>
<line x1="477.98" y1="375.91" x2="484.78" y2="375.91" stroke="#000" stroke-width="1.1"/>
<polyline points="305.40,382.00 317.97,386.30 330.54,380.57 343.11,380.21 355.68,378.78 368.25,375.91 393.39,378.78 405.96,381.28 418.53,381.28 431.10,382.00 443.67,380.21 468.81,367.32 481.38,365.53" fill="none" stroke="#000" stroke-width="1.8" stroke-linejoin="round"/>
<rect x="302.21" y="378.81" width="6.38" height="6.38" fill="#000"/>
<rect x="314.78" y="383.11" width="6.38" height="6.38" fill="#000"/>
<rect x="327.35" y="377.38" width="6.38" height="6.38" fill="#000"/>
<rect x="339.92" y="377.02" width="6.38" height="6.38" fill="#000"/>
<rect x="352.49" y="375.59" width="6.38" height="6.38" fill="#000"/>
<rect x="365.06" y="372.72" width="6.38" height="6.38" fill="#000"/>
<rect x="390.20" y="375.59" width="6.38" height="6.38" fill="#000"/>
<rect x="402.77" y="378.09" width="6.38" height="6.38" fill="#000"/>
<rect x="415.34" y="378.09" width="6.38" height="6.38" fill="#000"/>
<rect x="427.91" y="378.81" width="6.38" height="6.38" fill="#000"/>
<rect x="440.48" y="377.02" width="6.38" height="6.38" fill="#000"/>
<rect x="465.62" y="364.13" width="6.38" height="6.38" fill="#000"/>
<rect x="478.19" y="362.34" width="6.38" height="6.38" fill="#000"/>
<polyline points="305.40,382.00 317.97,392.74 330.54,386.30 343.11,405.99 355.68,403.84 368.25,392.74 393.39,387.37 405.96,384.15 418.53,374.84 431.10,372.33 443.67,369.83 468.81,367.32 481.38,373.77" fill="none" stroke="#000" stroke-width="1.7" stroke-linejoin="round" stroke-dasharray="4.5 1.6"/>
<polygon points="305.40,378.19 301.59,385.05 309.21,385.05" fill="#fff" stroke="#000" stroke-width="1.35" stroke-linejoin="miter"/>
<polygon points="317.97,388.93 314.16,395.79 321.78,395.79" fill="#fff" stroke="#000" stroke-width="1.35" stroke-linejoin="miter"/>
<polygon points="330.54,382.49 326.73,389.34 334.35,389.34" fill="#fff" stroke="#000" stroke-width="1.35" stroke-linejoin="miter"/>
<polygon points="343.11,402.18 339.30,409.03 346.92,409.03" fill="#fff" stroke="#000" stroke-width="1.35" stroke-linejoin="miter"/>
<polygon points="355.68,400.03 351.87,406.88 359.49,406.88" fill="#fff" stroke="#000" stroke-width="1.35" stroke-linejoin="miter"/>
<polygon points="368.25,388.93 364.44,395.79 372.06,395.79" fill="#fff" stroke="#000" stroke-width="1.35" stroke-linejoin="miter"/>
<polygon points="393.39,383.56 389.58,390.42 397.20,390.42" fill="#fff" stroke="#000" stroke-width="1.35" stroke-linejoin="miter"/>
<polygon points="405.96,380.34 402.15,387.19 409.77,387.19" fill="#fff" stroke="#000" stroke-width="1.35" stroke-linejoin="miter"/>
<polygon points="418.53,371.03 414.72,377.89 422.34,377.89" fill="#fff" stroke="#000" stroke-width="1.35" stroke-linejoin="miter"/>
<polygon points="431.10,368.53 427.29,375.38 434.91,375.38" fill="#fff" stroke="#000" stroke-width="1.35" stroke-linejoin="miter"/>
<polygon points="443.67,366.02 439.86,372.87 447.48,372.87" fill="#fff" stroke="#000" stroke-width="1.35" stroke-linejoin="miter"/>
<polygon points="468.81,363.51 465.00,370.37 472.62,370.37" fill="#fff" stroke="#000" stroke-width="1.35" stroke-linejoin="miter"/>
<polygon points="481.38,369.96 477.57,376.81 485.19,376.81" fill="#fff" stroke="#000" stroke-width="1.35" stroke-linejoin="miter"/>
<polyline points="305.40,382.00 317.97,402.05 330.54,402.05 343.11,428.90 355.68,427.11 368.25,433.19 393.39,443.22 405.96,443.58 418.53,433.55 431.10,426.39 443.67,407.42 468.81,384.51 481.38,369.47" fill="none" stroke="#000" stroke-width="1.7" stroke-linejoin="round" stroke-dasharray="5 1.6"/>
<circle cx="305.40" cy="382.00" r="3.42" fill="#fff" stroke="#000" stroke-width="1.3"/>
<circle cx="317.97" cy="402.05" r="3.42" fill="#fff" stroke="#000" stroke-width="1.3"/>
<circle cx="330.54" cy="402.05" r="3.42" fill="#fff" stroke="#000" stroke-width="1.3"/>
<circle cx="343.11" cy="428.90" r="3.42" fill="#fff" stroke="#000" stroke-width="1.3"/>
<circle cx="355.68" cy="427.11" r="3.42" fill="#fff" stroke="#000" stroke-width="1.3"/>
<circle cx="368.25" cy="433.19" r="3.42" fill="#fff" stroke="#000" stroke-width="1.3"/>
<circle cx="393.39" cy="443.22" r="3.42" fill="#fff" stroke="#000" stroke-width="1.3"/>
<circle cx="405.96" cy="443.58" r="3.42" fill="#fff" stroke="#000" stroke-width="1.3"/>
<circle cx="418.53" cy="433.55" r="3.42" fill="#fff" stroke="#000" stroke-width="1.3"/>
<circle cx="431.10" cy="426.39" r="3.42" fill="#fff" stroke="#000" stroke-width="1.3"/>
<circle cx="443.67" cy="407.42" r="3.42" fill="#fff" stroke="#000" stroke-width="1.3"/>
<circle cx="468.81" cy="384.51" r="3.42" fill="#fff" stroke="#000" stroke-width="1.3"/>
<circle cx="481.38" cy="369.47" r="3.42" fill="#fff" stroke="#000" stroke-width="1.3"/>
<polyline points="305.40,382.00 317.97,396.32 330.54,394.89 343.11,410.64 355.68,408.85 368.25,416.01 393.39,410.64 405.96,414.22 418.53,407.06 431.10,390.59 443.67,387.73 468.81,378.06 481.38,375.91" fill="none" stroke="#000" stroke-width="1.8" stroke-linejoin="round"/>
<polygon points="305.40,378.23 301.63,385.02 309.17,385.02" fill="#000" stroke="#000" stroke-width="0.6"/>
<polygon points="317.97,392.55 314.20,399.34 321.74,399.34" fill="#000" stroke="#000" stroke-width="0.6"/>
<polygon points="330.54,391.11 326.77,397.91 334.31,397.91" fill="#000" stroke="#000" stroke-width="0.6"/>
<polygon points="343.11,406.87 339.34,413.66 346.88,413.66" fill="#000" stroke="#000" stroke-width="0.6"/>
<polygon points="355.68,405.08 351.91,411.87 359.45,411.87" fill="#000" stroke="#000" stroke-width="0.6"/>
<polygon points="368.25,412.24 364.48,419.03 372.02,419.03" fill="#000" stroke="#000" stroke-width="0.6"/>
<polygon points="393.39,406.87 389.62,413.66 397.16,413.66" fill="#000" stroke="#000" stroke-width="0.6"/>
<polygon points="405.96,410.45 402.19,417.24 409.73,417.24" fill="#000" stroke="#000" stroke-width="0.6"/>
<polygon points="418.53,403.29 414.76,410.08 422.30,410.08" fill="#000" stroke="#000" stroke-width="0.6"/>
<polygon points="431.10,386.82 427.33,393.61 434.87,393.61" fill="#000" stroke="#000" stroke-width="0.6"/>
<polygon points="443.67,383.95 439.90,390.75 447.44,390.75" fill="#000" stroke="#000" stroke-width="0.6"/>
<polygon points="468.81,374.29 465.04,381.08 472.58,381.08" fill="#000" stroke="#000" stroke-width="0.6"/>
<polygon points="481.38,372.14 477.61,378.93 485.15,378.93" fill="#000" stroke="#000" stroke-width="0.6"/>
<polyline points="305.40,382.00 317.97,399.90 330.54,398.11 343.11,417.80 355.68,417.08 368.25,419.59 393.39,433.19 405.96,415.29 418.53,407.42 431.10,397.04 443.67,389.16 468.81,368.75 481.38,368.75" fill="none" stroke="#000" stroke-width="1.8" stroke-linejoin="round"/>
<circle cx="305.40" cy="382.00" r="3.63" fill="#000"/>
<circle cx="317.97" cy="399.90" r="3.63" fill="#000"/>
<circle cx="330.54" cy="398.11" r="3.63" fill="#000"/>
<circle cx="343.11" cy="417.80" r="3.63" fill="#000"/>
<circle cx="355.68" cy="417.08" r="3.63" fill="#000"/>
<circle cx="368.25" cy="419.59" r="3.63" fill="#000"/>
<circle cx="393.39" cy="433.19" r="3.63" fill="#000"/>
<circle cx="405.96" cy="415.29" r="3.63" fill="#000"/>
<circle cx="418.53" cy="407.42" r="3.63" fill="#000"/>
<circle cx="431.10" cy="397.04" r="3.63" fill="#000"/>
<circle cx="443.67" cy="389.16" r="3.63" fill="#000"/>
<circle cx="468.81" cy="368.75" r="3.63" fill="#000"/>
<circle cx="481.38" cy="368.75" r="3.63" fill="#000"/>
<line x1="389.00" y1="463.80" x2="394.00" y2="463.80" stroke="#000" stroke-width="1.1"/>
<line x1="391.50" y1="461.30" x2="391.50" y2="466.30" stroke="#000" stroke-width="1.1"/>
<line x1="404.00" y1="463.80" x2="409.00" y2="463.80" stroke="#000" stroke-width="1.1"/>
<line x1="406.50" y1="461.30" x2="406.50" y2="466.30" stroke="#000" stroke-width="1.1"/>
<line x1="408.00" y1="463.80" x2="413.00" y2="463.80" stroke="#000" stroke-width="1.1"/>
<line x1="410.50" y1="461.30" x2="410.50" y2="466.30" stroke="#000" stroke-width="1.1"/>
<line x1="418.70" y1="463.80" x2="423.70" y2="463.80" stroke="#000" stroke-width="1.1"/>
<line x1="421.20" y1="461.30" x2="421.20" y2="466.30" stroke="#000" stroke-width="1.1"/>
<text x="404.00" y="484.50" font-size="13" text-anchor="middle" font-weight="bold">*</text>
<line x1="338.00" y1="516.00" x2="358.00" y2="516.00" stroke="#000" stroke-width="1.7"/>
<rect x="345.10" y="513.10" width="5.80" height="5.80" fill="#000"/>
<text x="362.00" y="519.80" font-size="9.8" textLength="59.0" lengthAdjust="spacingAndGlyphs">Control (PBS)</text>
<line x1="312.00" y1="533.60" x2="318.10" y2="533.60" stroke="#000" stroke-width="1.7"/>
<line x1="326.50" y1="533.60" x2="330.80" y2="533.60" stroke="#000" stroke-width="1.7"/>
<polygon points="322.30,530.20 318.90,536.32 325.70,536.32" fill="#fff" stroke="#000" stroke-width="1.35" stroke-linejoin="miter"/>
<text x="335.60" y="537.00" font-size="9.8" textLength="120.0" lengthAdjust="spacingAndGlyphs">Anti-CanAg-SMCC-DM1 1.8</text>
<line x1="312.00" y1="551.50" x2="318.40" y2="551.50" stroke="#000" stroke-width="1.7"/>
<line x1="326.00" y1="551.50" x2="330.60" y2="551.50" stroke="#000" stroke-width="1.7"/>
<circle cx="322.20" cy="551.50" r="3.04" fill="#fff" stroke="#000" stroke-width="1.3"/>
<text x="335.60" y="555.00" font-size="9.8" textLength="120.0" lengthAdjust="spacingAndGlyphs">Anti-CanAg-SMCC-DM1 2.7</text>
<line x1="310.60" y1="570.50" x2="331.70" y2="570.50" stroke="#000" stroke-width="1.7"/>
<polygon points="320.80,567.17 317.47,573.16 324.13,573.16" fill="#000" stroke="#000" stroke-width="0.6"/>
<text x="334.60" y="573.30" font-size="9.8" textLength="131.5" lengthAdjust="spacingAndGlyphs">Anti-CanAg-PEG<tspan font-size="7.0" dy="2.4">4</tspan><tspan dy="-2.4">Mal-DM1 1.8</tspan></text>
<line x1="311.00" y1="588.00" x2="332.30" y2="588.00" stroke="#000" stroke-width="1.7"/>
<circle cx="321.50" cy="588.00" r="3.13" fill="#000"/>
<text x="335.00" y="591.20" font-size="9.8" textLength="131.5" lengthAdjust="spacingAndGlyphs">Anti-CanAg-PEG<tspan font-size="7.0" dy="2.4">4</tspan><tspan dy="-2.4">Mal-DM1 2.7</tspan></text>
</svg>
<div class="frame"></div>
</body>
</html>
